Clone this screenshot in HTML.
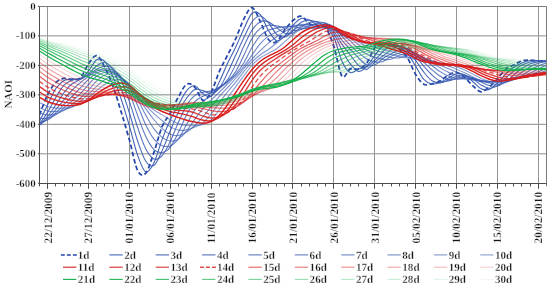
<!DOCTYPE html>
<html><head><meta charset="utf-8"><title>NAOI</title>
<style>
html,body{margin:0;padding:0;background:#fff;}
body{width:550px;height:290px;overflow:hidden;}
svg{display:block;}
text{font-family:"Liberation Serif",serif;font-weight:bold;fill:#151515;stroke:#fff;stroke-width:0.27px;text-rendering:geometricPrecision;}
.grid line{stroke:#969696;stroke-width:1;}
.grid line.h{stroke:#8c8c8c;}
.ticks line{stroke:#4a4a4a;stroke-width:1;}
.series path{fill:none;stroke-linejoin:round;}
.yl text{font-size:10.9px;}
.xl text{font-size:11.3px;}
.lg text{font-size:11.1px;}
</style></head><body>
<svg width="550" height="290" viewBox="0 0 550 290">
<defs><clipPath id="cp"><rect x="39.5" y="6.4" width="507.0" height="177.1"/></clipPath></defs>
<rect x="0" y="0" width="550" height="290" fill="#fff"/>
<g class="grid"><line class="h" x1="39.5" x2="546.5" y1="35.88" y2="35.88"/><line class="h" x1="39.5" x2="546.5" y1="65.36" y2="65.36"/><line class="h" x1="39.5" x2="546.5" y1="94.84" y2="94.84"/><line class="h" x1="39.5" x2="546.5" y1="124.32" y2="124.32"/><line class="h" x1="39.5" x2="546.5" y1="153.80" y2="153.80"/><line x1="47.5" x2="47.5" y1="6.5" y2="183.5"/><line x1="88.5" x2="88.5" y1="6.5" y2="183.5"/><line x1="129.5" x2="129.5" y1="6.5" y2="183.5"/><line x1="170.5" x2="170.5" y1="6.5" y2="183.5"/><line x1="211.5" x2="211.5" y1="6.5" y2="183.5"/><line x1="252.5" x2="252.5" y1="6.5" y2="183.5"/><line x1="292.5" x2="292.5" y1="6.5" y2="183.5"/><line x1="333.5" x2="333.5" y1="6.5" y2="183.5"/><line x1="374.5" x2="374.5" y1="6.5" y2="183.5"/><line x1="415.5" x2="415.5" y1="6.5" y2="183.5"/><line x1="456.5" x2="456.5" y1="6.5" y2="183.5"/><line x1="497.5" x2="497.5" y1="6.5" y2="183.5"/><line x1="538.5" x2="538.5" y1="6.5" y2="183.5"/></g>
<g class="series" clip-path="url(#cp)">
<path d="M39.50,115.00C40.86,111.59 44.95,99.94 47.68,94.53C50.40,89.12 53.13,85.22 55.85,82.53C58.58,79.85 61.31,78.96 64.03,78.45C66.76,77.94 69.48,79.58 72.21,79.48C74.93,79.38 77.66,80.46 80.38,77.84C83.11,75.22 85.84,67.45 88.56,63.75C91.29,60.05 94.01,54.99 96.74,55.64C99.46,56.29 102.19,62.48 104.92,67.65C107.64,72.81 110.37,79.22 113.09,86.65C115.82,94.07 118.54,103.28 121.27,112.19C124.00,121.09 126.72,130.34 129.45,140.07C132.17,149.81 134.90,165.08 137.62,170.60C140.35,176.12 143.08,176.27 145.80,173.20C148.53,170.13 151.25,159.96 153.98,152.19C156.70,144.41 159.43,133.07 162.16,126.54C164.88,120.01 167.61,117.96 170.33,113.00C173.06,108.04 175.78,101.59 178.51,96.80C181.23,92.01 183.96,85.82 186.69,84.24C189.41,82.67 192.14,84.67 194.86,87.35C197.59,90.03 200.31,99.51 203.04,100.30C205.77,101.09 208.49,96.94 211.22,92.10C213.94,87.27 216.67,77.45 219.39,71.30C222.12,65.15 224.85,60.63 227.57,55.20C230.30,49.77 233.02,44.77 235.75,38.70C238.47,32.63 241.20,23.96 243.92,18.80C246.65,13.64 249.38,7.27 252.10,7.72C254.83,8.17 257.55,16.20 260.28,21.50C263.00,26.80 265.73,36.12 268.46,39.50C271.18,42.88 273.91,43.42 276.63,41.80C279.36,40.18 282.08,33.35 284.81,29.80C287.54,26.25 290.26,22.75 292.99,20.50C295.71,18.25 298.44,15.75 301.16,16.30C303.89,16.85 306.62,22.08 309.34,23.80C312.07,25.52 314.79,25.90 317.52,26.60C320.24,27.30 322.97,24.68 325.69,28.00C328.42,31.32 331.15,38.44 333.87,46.50C336.60,54.56 339.32,72.62 342.05,76.35C344.77,80.08 347.50,70.08 350.23,68.87C352.95,67.67 355.68,70.04 358.40,69.11C361.13,68.18 363.85,66.84 366.58,63.28C369.31,59.73 372.03,51.06 374.76,47.80C377.48,44.54 380.21,44.16 382.93,43.70C385.66,43.24 388.39,44.22 391.11,45.06C393.84,45.90 396.56,46.62 399.29,48.74C402.01,50.86 404.74,53.51 407.46,57.79C410.19,62.08 412.92,70.06 415.64,74.47C418.37,78.87 421.09,82.67 423.82,84.23C426.54,85.78 429.27,84.34 432.00,83.79C434.72,83.25 437.45,82.36 440.17,80.94C442.90,79.51 445.62,76.66 448.35,75.24C451.08,73.82 453.80,72.01 456.53,72.40C459.25,72.79 461.98,75.35 464.70,77.59C467.43,79.82 470.16,83.46 472.88,85.83C475.61,88.20 478.33,91.61 481.06,91.80C483.78,91.99 486.51,89.12 489.23,86.95C491.96,84.79 494.69,81.76 497.41,78.82C500.14,75.87 502.86,71.60 505.59,69.31C508.31,67.01 511.04,66.44 513.77,65.03C516.49,63.63 519.22,61.70 521.94,60.86C524.67,60.03 527.39,59.95 530.12,60.01C532.85,60.07 535.57,61.00 538.30,61.25C541.02,61.50 543.75,61.46 546.47,61.50C549.20,61.54 551.93,61.50 554.65,61.50C557.38,61.50 561.47,61.50 562.83,61.50" stroke="#2446aa" stroke-opacity="1.00" stroke-width="1.75" stroke-dasharray="4.6,2.6"/>
<path d="M39.50,121.25C40.86,118.50 44.95,110.22 47.68,104.77C50.40,99.31 53.13,92.58 55.85,88.53C58.58,84.49 61.31,82.09 64.03,80.49C66.76,78.90 69.48,79.27 72.21,78.96C74.93,78.66 77.66,80.02 80.38,78.66C83.11,77.30 85.84,73.95 88.56,70.79C91.29,67.63 94.01,61.22 96.74,59.69C99.46,58.17 102.19,58.73 104.92,61.64C107.64,64.55 110.37,70.85 113.09,77.15C115.82,83.44 118.54,91.25 121.27,99.42C124.00,107.58 126.72,116.81 129.45,126.13C132.17,135.45 134.90,147.71 137.62,155.34C140.35,162.97 143.08,170.67 145.80,171.90C148.53,173.13 151.25,168.12 153.98,162.69C156.70,157.27 159.43,146.52 162.16,139.36C164.88,132.21 167.61,125.51 170.33,119.77C173.06,114.02 175.78,109.77 178.51,104.90C181.23,100.03 183.96,93.70 186.69,90.52C189.41,87.34 192.14,85.24 194.86,85.80C197.59,86.35 200.31,92.09 203.04,93.82C205.77,95.56 208.49,98.22 211.22,96.20C213.94,94.18 216.67,87.19 219.39,81.70C222.12,76.21 224.85,69.04 227.57,63.25C230.30,57.46 233.02,52.70 235.75,46.95C238.47,41.20 241.20,34.36 243.92,28.75C246.65,23.14 249.38,15.62 252.10,13.26C254.83,10.91 257.55,11.74 260.28,14.61C263.00,17.48 265.73,26.16 268.46,30.50C271.18,34.84 273.91,39.77 276.63,40.65C279.36,41.53 282.08,38.38 284.81,35.80C287.54,33.22 290.26,28.05 292.99,25.15C295.71,22.25 298.44,19.25 301.16,18.40C303.89,17.55 306.62,18.92 309.34,20.05C312.07,21.18 314.79,23.99 317.52,25.20C320.24,26.41 322.97,25.29 325.69,27.30C328.42,29.31 331.15,31.56 333.87,37.25C336.60,42.94 339.32,55.53 342.05,61.42C344.77,67.32 347.50,71.35 350.23,72.61C352.95,73.87 355.68,70.06 358.40,68.99C361.13,67.92 363.85,68.44 366.58,66.20C369.31,63.95 372.03,58.95 374.76,55.54C377.48,52.13 380.21,47.61 382.93,45.75C385.66,43.89 388.39,44.19 391.11,44.38C393.84,44.57 396.56,45.42 399.29,46.90C402.01,48.38 404.74,50.06 407.46,53.27C410.19,56.47 412.92,61.78 415.64,66.13C418.37,70.48 421.09,76.37 423.82,79.35C426.54,82.33 429.27,83.51 432.00,84.01C434.72,84.51 437.45,83.35 440.17,82.37C442.90,81.38 445.62,79.51 448.35,78.09C451.08,76.67 453.80,74.34 456.53,73.82C459.25,73.30 461.98,73.68 464.70,74.99C467.43,76.31 470.16,79.40 472.88,81.71C475.61,84.01 478.33,87.54 481.06,88.82C483.78,90.09 486.51,90.37 489.23,89.38C491.96,88.39 494.69,85.44 497.41,82.89C500.14,80.33 502.86,76.68 505.59,74.06C508.31,71.44 511.04,69.02 513.77,67.17C516.49,65.32 519.22,64.07 521.94,62.95C524.67,61.83 527.39,60.82 530.12,60.44C532.85,60.05 535.57,60.47 538.30,60.63C541.02,60.78 543.75,61.23 546.47,61.37C549.20,61.52 551.93,61.48 554.65,61.50C557.38,61.52 561.47,61.50 562.83,61.50" stroke="#385ab2" stroke-opacity="0.95" stroke-width="1.10"/>
<path d="M39.50,123.67C40.86,121.78 44.95,116.73 47.68,112.34C50.40,107.96 53.13,101.88 55.85,97.36C58.58,92.83 61.31,88.04 64.03,85.17C66.76,82.30 69.48,81.25 72.21,80.15C74.93,79.06 77.66,79.67 80.38,78.59C83.11,77.51 85.84,75.83 88.56,73.69C91.29,71.55 94.01,67.63 96.74,65.74C99.46,63.85 102.19,61.64 104.92,62.34C107.64,63.05 110.37,65.56 113.09,69.98C115.82,74.39 118.54,81.66 121.27,88.83C124.00,95.99 126.72,104.28 129.45,112.97C132.17,121.66 134.90,132.90 137.62,140.95C140.35,149.01 143.08,157.23 145.80,161.29C148.53,165.35 151.25,167.10 153.98,165.33C156.70,163.55 159.43,156.43 162.16,150.64C164.88,144.85 167.61,137.00 170.33,130.58C173.06,124.15 175.78,117.54 178.51,112.11C181.23,106.69 183.96,101.79 186.69,98.01C189.41,94.24 192.14,90.69 194.86,89.46C197.59,88.23 200.31,90.00 203.04,90.63C205.77,91.26 208.49,93.71 211.22,93.25C213.94,92.80 216.67,91.30 219.39,87.90C222.12,84.50 224.85,78.34 227.57,72.87C230.30,67.40 233.02,60.95 235.75,55.07C238.47,49.18 241.20,43.12 243.92,37.57C246.65,32.01 249.38,25.33 252.10,21.74C254.83,18.15 257.55,15.81 260.28,16.01C263.00,16.20 265.73,19.86 268.46,22.91C271.18,25.95 273.91,31.91 276.63,34.27C279.36,36.62 282.08,37.63 284.81,37.03C287.54,36.44 290.26,33.17 292.99,30.70C295.71,28.23 298.44,23.95 301.16,22.20C303.89,20.45 306.62,20.19 309.34,20.20C312.07,20.21 314.79,21.24 317.52,22.23C320.24,23.22 322.97,24.22 325.69,26.13C328.42,28.04 331.15,29.68 333.87,33.70C336.60,37.72 339.32,45.25 342.05,50.28C344.77,55.32 347.50,60.38 350.23,63.91C352.95,67.43 355.68,70.91 358.40,71.44C361.13,71.97 363.85,68.99 366.58,67.09C369.31,65.19 372.03,62.65 374.76,60.06C377.48,57.48 380.21,54.02 382.93,51.59C385.66,49.17 388.39,46.48 391.11,45.52C393.84,44.56 396.56,45.00 399.29,45.83C402.01,46.67 404.74,48.11 407.46,50.53C410.19,52.95 412.92,56.73 415.64,60.33C418.37,63.94 421.09,68.75 423.82,72.16C426.54,75.58 429.27,79.03 432.00,80.83C434.72,82.63 437.45,83.13 440.17,82.99C442.90,82.85 445.62,81.12 448.35,79.99C451.08,78.86 453.80,77.01 456.53,76.19C459.25,75.37 461.98,74.67 464.70,75.08C467.43,75.48 470.16,76.94 472.88,78.61C475.61,80.27 478.33,83.47 481.06,85.07C483.78,86.67 486.51,88.06 489.23,88.20C491.96,88.33 494.69,87.50 497.41,85.86C500.14,84.22 502.86,80.83 505.59,78.36C508.31,75.89 511.04,73.27 513.77,71.05C516.49,68.84 519.22,66.58 521.94,65.07C524.67,63.55 527.39,62.70 530.12,61.97C532.85,61.24 535.57,60.88 538.30,60.71C541.02,60.53 543.75,60.80 546.47,60.92C549.20,61.04 551.93,61.32 554.65,61.42C557.38,61.51 561.47,61.49 562.83,61.50" stroke="#385ab2" stroke-opacity="0.91" stroke-width="1.10"/>
<path d="M39.50,124.75C40.86,123.36 44.95,119.69 47.68,116.38C50.40,113.07 53.13,108.85 55.85,104.89C58.58,100.93 61.31,96.15 64.03,92.63C66.76,89.10 69.48,85.92 72.21,83.75C74.93,81.57 77.66,81.05 80.38,79.58C83.11,78.10 85.84,76.61 88.56,74.88C91.29,73.15 94.01,70.62 96.74,69.18C99.46,67.73 102.19,66.34 104.92,66.22C107.64,66.09 110.37,66.03 113.09,68.42C115.82,70.81 118.54,74.99 121.27,80.53C124.00,86.07 126.72,93.83 129.45,101.64C132.17,109.45 134.90,119.48 137.62,127.38C140.35,135.27 143.08,143.74 145.80,149.02C148.53,154.29 151.25,157.91 153.98,159.02C156.70,160.12 159.43,158.60 162.16,155.63C164.88,152.67 167.61,146.81 170.33,141.23C173.06,135.65 175.78,128.15 178.51,122.13C181.23,116.12 183.96,109.61 186.69,105.14C189.41,100.68 192.14,97.51 194.86,95.35C197.59,93.19 200.31,92.90 203.04,92.17C205.77,91.45 208.49,91.73 211.22,91.00C213.94,90.26 216.67,89.64 219.39,87.76C222.12,85.88 224.85,83.63 227.57,79.73C230.30,75.82 233.02,69.95 235.75,64.33C238.47,58.70 241.20,51.70 243.92,46.00C246.65,40.30 249.38,34.16 252.10,30.11C254.83,26.05 257.55,23.05 260.28,21.68C263.00,20.31 265.73,20.89 268.46,21.88C271.18,22.87 273.91,25.75 276.63,27.63C279.36,29.51 282.08,32.27 284.81,33.15C287.54,34.03 290.26,33.91 292.99,32.90C295.71,31.89 298.44,28.82 301.16,27.10C303.89,25.38 306.62,23.48 309.34,22.60C312.07,21.72 314.79,21.62 317.52,21.80C320.24,21.98 322.97,22.10 325.69,23.68C328.42,25.25 331.15,27.78 333.87,31.23C336.60,34.67 339.32,40.41 342.05,44.36C344.77,48.31 347.50,51.46 350.23,54.93C352.95,58.40 355.68,62.80 358.40,65.21C361.13,67.62 363.85,69.89 366.58,69.40C369.31,68.91 372.03,64.50 374.76,62.27C377.48,60.03 380.21,58.02 382.93,55.97C385.66,53.92 388.39,51.57 391.11,49.96C393.84,48.35 396.56,46.51 399.29,46.32C402.01,46.13 404.74,47.12 407.46,48.82C410.19,50.52 412.92,53.60 415.64,56.52C418.37,59.43 421.09,63.21 423.82,66.31C426.54,69.40 429.27,72.65 432.00,75.07C434.72,77.50 437.45,79.86 440.17,80.86C442.90,81.85 445.62,81.51 448.35,81.05C451.08,80.59 453.80,78.84 456.53,78.09C459.25,77.34 461.98,76.60 464.70,76.54C467.43,76.49 470.16,76.87 472.88,77.76C475.61,78.66 478.33,80.61 481.06,81.90C483.78,83.20 486.51,84.89 489.23,85.54C491.96,86.20 494.69,86.49 497.41,85.85C500.14,85.21 502.86,83.52 505.59,81.72C508.31,79.92 511.04,77.23 513.77,75.03C516.49,72.83 519.22,70.38 521.94,68.51C524.67,66.63 527.39,64.92 530.12,63.80C532.85,62.68 535.57,62.27 538.30,61.79C541.02,61.31 543.75,61.03 546.47,60.91C549.20,60.78 551.93,60.98 554.65,61.06C557.38,61.15 561.47,61.37 562.83,61.44" stroke="#385ab2" stroke-opacity="0.86" stroke-width="1.10"/>
<path d="M39.50,125.20C40.86,124.12 44.95,121.30 47.68,118.71C50.40,116.11 53.13,112.80 55.85,109.61C58.58,106.43 61.31,102.87 64.03,99.60C66.76,96.33 69.48,92.84 72.21,90.00C74.93,87.16 77.66,84.83 80.38,82.57C83.11,80.30 85.84,78.33 88.56,76.41C91.29,74.49 94.01,72.29 96.74,71.03C99.46,69.77 102.19,68.99 104.92,68.87C107.64,68.75 110.37,68.92 113.09,70.30C115.82,71.69 118.54,73.48 121.27,77.17C124.00,80.86 126.72,86.06 129.45,92.44C132.17,98.81 134.90,108.08 137.62,115.43C140.35,122.78 143.08,130.84 145.80,136.54C148.53,142.24 151.25,146.99 153.98,149.65C156.70,152.31 159.43,152.94 162.16,152.52C164.88,152.10 167.61,150.47 170.33,147.11C173.06,143.74 175.78,137.77 178.51,132.35C181.23,126.92 183.96,119.68 186.69,114.55C189.41,109.43 192.14,104.62 194.86,101.59C197.59,98.55 200.31,97.91 203.04,96.34C205.77,94.77 208.49,93.71 211.22,92.16C213.94,90.61 216.67,88.88 219.39,87.06C222.12,85.24 224.85,83.84 227.57,81.25C230.30,78.66 233.02,75.86 235.75,71.52C238.47,67.18 241.20,60.75 243.92,55.22C246.65,49.69 249.38,42.82 252.10,38.34C254.83,33.87 257.55,30.57 260.28,28.38C263.00,26.20 265.73,25.66 268.46,25.24C271.18,24.82 273.91,25.39 276.63,25.86C279.36,26.33 282.08,27.27 284.81,28.06C287.54,28.86 290.26,30.37 292.99,30.62C295.71,30.87 298.44,30.28 301.16,29.58C303.89,28.88 306.62,27.47 309.34,26.44C312.07,25.41 314.79,23.97 317.52,23.40C320.24,22.83 322.97,22.23 325.69,23.04C328.42,23.85 331.15,25.37 333.87,28.24C336.60,31.11 339.32,36.75 342.05,40.25C344.77,43.75 347.50,46.34 350.23,49.26C352.95,52.18 355.68,55.17 358.40,57.77C361.13,60.36 363.85,63.60 366.58,64.82C369.31,66.04 372.03,66.13 374.76,65.08C377.48,64.04 380.21,60.44 382.93,58.55C385.66,56.67 388.39,55.26 391.11,53.79C393.84,52.32 396.56,50.58 399.29,49.72C402.01,48.85 404.74,47.91 407.46,48.62C410.19,49.32 412.92,51.71 415.64,53.95C418.37,56.19 421.09,59.42 423.82,62.06C426.54,64.70 429.27,67.44 432.00,69.80C434.72,72.17 437.45,74.59 440.17,76.24C442.90,77.90 445.62,79.22 448.35,79.73C451.08,80.25 453.80,79.61 456.53,79.32C459.25,79.03 461.98,78.15 464.70,77.99C467.43,77.84 470.16,77.97 472.88,78.40C475.61,78.83 478.33,79.82 481.06,80.57C483.78,81.32 486.51,82.31 489.23,82.91C491.96,83.52 494.69,84.26 497.41,84.20C500.14,84.14 502.86,83.51 505.59,82.54C508.31,81.57 511.04,80.11 513.77,78.38C516.49,76.66 519.22,74.12 521.94,72.20C524.67,70.27 527.39,68.29 530.12,66.81C532.85,65.32 535.57,64.14 538.30,63.29C541.02,62.45 543.75,62.11 546.47,61.73C549.20,61.35 551.93,61.12 554.65,61.02C557.38,60.93 561.47,61.13 562.83,61.15" stroke="#385ab2" stroke-opacity="0.82" stroke-width="1.10"/>
<path d="M39.50,122.33C40.86,121.96 44.95,121.70 47.68,120.09C50.40,118.48 53.13,115.29 55.85,112.68C58.58,110.07 61.31,107.16 64.03,104.42C66.76,101.68 69.48,98.99 72.21,96.25C74.93,93.51 77.66,90.78 80.38,87.97C83.11,85.17 85.84,81.93 88.56,79.43C91.29,76.93 94.01,74.44 96.74,72.95C99.46,71.45 102.19,70.65 104.92,70.47C107.64,70.28 110.37,70.70 113.09,71.83C115.82,72.97 118.54,74.65 121.27,77.28C124.00,79.92 126.72,82.96 129.45,87.66C132.17,92.35 134.90,99.23 137.62,105.47C140.35,111.70 143.08,119.44 145.80,125.06C148.53,130.67 151.25,135.69 153.98,139.15C156.70,142.61 159.43,144.67 162.16,145.80C164.88,146.93 167.61,147.11 170.33,145.93C173.06,144.75 175.78,142.32 178.51,138.72C181.23,135.12 183.96,129.11 186.69,124.33C189.41,119.54 192.14,113.85 194.86,110.02C197.59,106.19 200.31,103.77 203.04,101.37C205.77,98.97 208.49,97.75 211.22,95.63C213.94,93.52 216.67,91.00 219.39,88.68C222.12,86.37 224.85,84.17 227.57,81.75C230.30,79.33 233.02,77.33 235.75,74.16C238.47,70.99 241.20,67.21 243.92,62.73C246.65,58.26 249.38,51.84 252.10,47.30C254.83,42.77 257.55,38.38 260.28,35.54C263.00,32.69 265.73,31.49 268.46,30.24C271.18,28.98 273.91,28.62 276.63,28.00C279.36,27.38 282.08,26.72 284.81,26.52C287.54,26.32 290.26,26.52 292.99,26.80C295.71,27.09 298.44,27.93 301.16,28.23C303.89,28.54 306.62,28.91 309.34,28.62C312.07,28.32 314.79,27.21 317.52,26.47C320.24,25.73 322.97,24.09 325.69,24.17C328.42,24.25 331.15,24.93 333.87,26.95C336.60,28.97 339.32,33.25 342.05,36.26C344.77,39.27 347.50,42.30 350.23,45.02C352.95,47.74 355.68,50.29 358.40,52.57C361.13,54.85 363.85,57.12 366.58,58.69C369.31,60.25 372.03,61.51 374.76,61.99C377.48,62.46 380.21,62.47 382.93,61.52C385.66,60.57 388.39,57.73 391.11,56.30C393.84,54.88 396.56,53.82 399.29,52.95C402.01,52.07 404.74,51.07 407.46,51.06C410.19,51.06 412.92,51.60 415.64,52.93C418.37,54.25 421.09,56.87 423.82,59.00C426.54,61.12 429.27,63.57 432.00,65.68C434.72,67.79 437.45,69.93 440.17,71.66C442.90,73.39 445.62,74.94 448.35,76.08C451.08,77.22 453.80,78.02 456.53,78.51C459.25,79.00 461.98,78.90 464.70,79.03C467.43,79.16 470.16,79.03 472.88,79.30C475.61,79.57 478.33,80.24 481.06,80.63C483.78,81.02 486.51,81.37 489.23,81.64C491.96,81.90 494.69,82.22 497.41,82.23C500.14,82.24 502.86,82.15 505.59,81.72C508.31,81.28 511.04,80.67 513.77,79.62C516.49,78.58 519.22,77.04 521.94,75.46C524.67,73.89 527.39,71.76 530.12,70.16C532.85,68.57 535.57,67.07 538.30,65.88C541.02,64.68 543.75,63.69 546.47,62.99C549.20,62.30 551.93,62.01 554.65,61.69C557.38,61.38 561.47,61.20 562.83,61.10" stroke="#385ab2" stroke-opacity="0.78" stroke-width="1.10"/>
<path d="M39.50,118.00C40.86,118.06 44.95,118.91 47.68,118.36C50.40,117.82 53.13,116.49 55.85,114.72C58.58,112.96 61.31,110.10 64.03,107.79C66.76,105.48 69.48,103.22 72.21,100.86C74.93,98.50 77.66,96.34 80.38,93.62C83.11,90.90 85.84,87.44 88.56,84.51C91.29,81.58 94.01,78.09 96.74,76.03C99.46,73.98 102.19,72.73 104.92,72.19C107.64,71.65 110.37,71.88 113.09,72.78C115.82,73.68 118.54,75.35 121.27,77.60C124.00,79.84 126.72,82.60 129.45,86.25C132.17,89.91 134.90,94.69 137.62,99.51C140.35,104.32 143.08,110.24 145.80,115.14C148.53,120.05 151.25,125.23 153.98,128.93C156.70,132.64 159.43,135.32 162.16,137.35C164.88,139.38 167.61,140.85 170.33,141.11C173.06,141.37 175.78,140.61 178.51,138.91C181.23,137.22 183.96,134.25 186.69,130.94C189.41,127.63 192.14,122.76 194.86,119.05C197.59,115.33 200.31,111.80 203.04,108.63C205.77,105.46 208.49,102.79 211.22,100.05C213.94,97.30 216.67,94.85 219.39,92.16C222.12,89.46 224.85,86.66 227.57,83.90C230.30,81.14 233.02,78.54 235.75,75.60C238.47,72.66 241.20,69.70 243.92,66.25C246.65,62.80 249.38,58.65 252.10,54.88C254.83,51.10 257.55,46.75 260.28,43.62C263.00,40.49 265.73,38.06 268.46,36.10C271.18,34.15 273.91,33.20 276.63,31.89C279.36,30.58 282.08,29.30 284.81,28.26C287.54,27.22 290.26,26.15 292.99,25.66C295.71,25.17 298.44,24.98 301.16,25.30C303.89,25.63 306.62,27.10 309.34,27.60C312.07,28.10 314.79,28.48 317.52,28.33C320.24,28.18 322.97,26.85 325.69,26.69C328.42,26.52 331.15,26.14 333.87,27.36C336.60,28.58 339.32,31.75 342.05,34.01C344.77,36.27 347.50,38.51 350.23,40.92C352.95,43.33 355.68,46.26 358.40,48.46C361.13,50.66 363.85,52.66 366.58,54.10C369.31,55.55 372.03,56.25 374.76,57.13C377.48,58.01 380.21,59.03 382.93,59.37C385.66,59.71 388.39,59.86 391.11,59.17C393.84,58.48 396.56,56.14 399.29,55.22C402.01,54.30 404.74,53.78 407.46,53.64C410.19,53.50 412.92,53.78 415.64,54.41C418.37,55.03 421.09,56.04 423.82,57.40C426.54,58.75 429.27,60.80 432.00,62.54C434.72,64.28 437.45,66.25 440.17,67.86C442.90,69.47 445.62,70.89 448.35,72.17C451.08,73.45 453.80,74.52 456.53,75.55C459.25,76.59 461.98,77.64 464.70,78.38C467.43,79.12 470.16,79.55 472.88,80.00C475.61,80.45 478.33,80.83 481.06,81.08C483.78,81.34 486.51,81.51 489.23,81.54C491.96,81.56 494.69,81.42 497.41,81.23C500.14,81.04 502.86,80.70 505.59,80.38C508.31,80.07 511.04,79.91 513.77,79.33C516.49,78.76 519.22,77.96 521.94,76.94C524.67,75.93 527.39,74.60 530.12,73.25C532.85,71.91 535.57,70.22 538.30,68.89C541.02,67.56 543.75,66.27 546.47,65.25C549.20,64.24 551.93,63.38 554.65,62.78C557.38,62.18 561.47,61.85 562.83,61.67" stroke="#385ab2" stroke-opacity="0.73" stroke-width="1.10"/>
<path d="M39.50,113.00C40.86,113.34 44.95,114.92 47.68,115.07C50.40,115.21 53.13,114.70 55.85,113.88C58.58,113.07 61.31,111.79 64.03,110.19C66.76,108.58 69.48,106.28 72.21,104.25C74.93,102.21 77.66,100.37 80.38,97.98C83.11,95.59 85.84,92.73 88.56,89.89C91.29,87.04 94.01,83.39 96.74,80.90C99.46,78.42 102.19,76.13 104.92,74.98C107.64,73.83 110.37,73.54 113.09,74.00C115.82,74.45 118.54,75.80 121.27,77.70C124.00,79.61 126.72,82.23 129.45,85.41C132.17,88.59 134.90,92.91 137.62,96.80C140.35,100.68 143.08,104.89 145.80,108.72C148.53,112.55 151.25,116.45 153.98,119.77C156.70,123.09 159.43,126.21 162.16,128.63C164.88,131.06 167.61,133.15 170.33,134.30C173.06,135.46 175.78,135.94 178.51,135.57C181.23,135.20 183.96,133.76 186.69,132.08C189.41,130.40 192.14,128.05 194.86,125.49C197.59,122.93 200.31,119.86 203.04,116.70C205.77,113.55 208.49,109.94 211.22,106.56C213.94,103.19 216.67,99.63 219.39,96.45C222.12,93.28 224.85,90.57 227.57,87.54C230.30,84.50 233.02,81.42 235.75,78.25C238.47,75.08 241.20,71.72 243.92,68.50C246.65,65.28 249.38,61.90 252.10,58.93C254.83,55.97 257.55,53.34 260.28,50.70C263.00,48.06 265.73,45.42 268.46,43.10C271.18,40.79 273.91,38.73 276.63,36.82C279.36,34.90 282.08,33.22 284.81,31.63C287.54,30.04 290.26,28.48 292.99,27.29C295.71,26.10 298.44,24.85 301.16,24.49C303.89,24.13 306.62,24.62 309.34,25.12C312.07,25.61 314.79,26.95 317.52,27.48C320.24,28.00 322.97,28.01 325.69,28.29C328.42,28.57 331.15,28.30 333.87,29.16C336.60,30.03 339.32,31.95 342.05,33.48C344.77,35.01 347.50,36.54 350.23,38.37C352.95,40.19 355.68,42.45 358.40,44.44C361.13,46.43 363.85,48.84 366.58,50.31C369.31,51.79 372.03,52.46 374.76,53.31C377.48,54.17 380.21,54.74 382.93,55.45C385.66,56.16 388.39,57.18 391.11,57.58C393.84,57.99 396.56,58.20 399.29,57.86C402.01,57.52 404.74,55.81 407.46,55.54C410.19,55.27 412.92,55.81 415.64,56.24C418.37,56.68 421.09,57.39 423.82,58.13C426.54,58.88 429.27,59.58 432.00,60.70C434.72,61.82 437.45,63.49 440.17,64.84C442.90,66.19 445.62,67.56 448.35,68.78C451.08,70.01 453.80,71.03 456.53,72.20C459.25,73.37 461.98,74.62 464.70,75.81C467.43,76.99 470.16,78.37 472.88,79.31C475.61,80.26 478.33,81.06 481.06,81.48C483.78,81.90 486.51,81.86 489.23,81.82C491.96,81.77 494.69,81.54 497.41,81.20C500.14,80.85 502.86,80.20 505.59,79.74C508.31,79.29 511.04,78.92 513.77,78.47C516.49,78.01 519.22,77.63 521.94,77.02C524.67,76.42 527.39,75.71 530.12,74.83C532.85,73.95 535.57,72.90 538.30,71.75C541.02,70.61 543.75,69.13 546.47,67.97C549.20,66.80 551.93,65.68 554.65,64.78C557.38,63.89 561.47,62.98 562.83,62.62" stroke="#385ab2" stroke-opacity="0.69" stroke-width="1.10"/>
<path d="M39.50,107.78C40.86,108.31 44.95,110.34 47.68,110.95C50.40,111.56 53.13,111.62 55.85,111.45C58.58,111.28 61.31,110.73 64.03,109.95C66.76,109.17 69.48,108.22 72.21,106.78C74.93,105.34 77.66,103.42 80.38,101.31C83.11,99.21 85.84,96.71 88.56,94.18C91.29,91.64 94.01,88.54 96.74,86.08C99.46,83.62 102.19,81.06 104.92,79.43C107.64,77.80 110.37,76.48 113.09,76.28C115.82,76.08 118.54,76.85 121.27,78.24C124.00,79.63 126.72,81.86 129.45,84.63C132.17,87.41 134.90,91.43 137.62,94.87C140.35,98.32 143.08,102.17 145.80,105.29C148.53,108.40 151.25,111.01 153.98,113.55C156.70,116.09 159.43,118.30 162.16,120.52C164.88,122.75 167.61,125.30 170.33,126.90C173.06,128.50 175.78,129.64 178.51,130.14C181.23,130.63 183.96,130.37 186.69,129.87C189.41,129.37 192.14,128.31 194.86,127.11C197.59,125.91 200.31,124.88 203.04,122.69C205.77,120.50 208.49,117.31 211.22,113.97C213.94,110.63 216.67,106.33 219.39,102.65C222.12,98.96 224.85,95.29 227.57,91.87C230.30,88.45 233.02,85.48 235.75,82.11C238.47,78.74 241.20,75.04 243.92,71.64C246.65,68.25 249.38,64.56 252.10,61.75C254.83,58.93 257.55,56.82 260.28,54.78C263.00,52.73 265.73,51.43 268.46,49.46C271.18,47.49 273.91,45.20 276.63,42.96C279.36,40.72 282.08,38.13 284.81,36.04C287.54,33.94 290.26,32.05 292.99,30.39C295.71,28.73 298.44,27.07 301.16,26.07C303.89,25.07 306.62,24.55 309.34,24.41C312.07,24.28 314.79,24.76 317.52,25.28C320.24,25.80 322.97,26.69 325.69,27.53C328.42,28.37 331.15,29.17 333.87,30.31C336.60,31.46 339.32,33.22 342.05,34.41C344.77,35.59 347.50,36.18 350.23,37.41C352.95,38.64 355.68,40.26 358.40,41.78C361.13,43.30 363.85,45.16 366.58,46.53C369.31,47.91 372.03,49.08 374.76,50.03C377.48,50.99 380.21,51.54 382.93,52.25C385.66,52.96 388.39,53.57 391.11,54.30C393.84,55.02 396.56,56.01 399.29,56.60C402.01,57.19 404.74,57.68 407.46,57.86C410.19,58.03 412.92,57.40 415.64,57.65C418.37,57.90 421.09,58.80 423.82,59.35C426.54,59.91 429.27,60.39 432.00,60.99C434.72,61.58 437.45,62.11 440.17,62.95C442.90,63.78 445.62,64.96 448.35,66.00C451.08,67.04 453.80,68.05 456.53,69.18C459.25,70.32 461.98,71.51 464.70,72.80C467.43,74.09 470.16,75.60 472.88,76.92C475.61,78.24 478.33,79.84 481.06,80.70C483.78,81.56 486.51,81.95 489.23,82.09C491.96,82.22 494.69,81.85 497.41,81.48C500.14,81.12 502.86,80.44 505.59,79.87C508.31,79.31 511.04,78.67 513.77,78.11C516.49,77.55 519.22,77.01 521.94,76.51C524.67,76.01 527.39,75.67 530.12,75.13C532.85,74.60 535.57,74.07 538.30,73.32C541.02,72.56 543.75,71.63 546.47,70.61C549.20,69.60 551.93,68.28 554.65,67.25C557.38,66.22 561.47,64.89 562.83,64.42" stroke="#385ab2" stroke-opacity="0.64" stroke-width="1.10"/>
<path d="M39.50,102.50C40.86,103.16 44.95,105.52 47.68,106.45C50.40,107.39 53.13,107.82 55.85,108.11C58.58,108.39 61.31,108.35 64.03,108.15C66.76,107.95 69.48,107.61 72.21,106.90C74.93,106.19 77.66,105.44 80.38,103.88C83.11,102.33 85.84,99.82 88.56,97.56C91.29,95.30 94.01,92.54 96.74,90.32C99.46,88.10 102.19,85.93 104.92,84.24C107.64,82.54 110.37,80.88 113.09,80.15C115.82,79.42 118.54,79.16 121.27,79.87C124.00,80.58 126.72,82.20 129.45,84.42C132.17,86.65 134.90,90.18 137.62,93.23C140.35,96.28 143.08,99.92 145.80,102.71C148.53,105.50 151.25,107.95 153.98,109.98C156.70,112.00 159.43,113.21 162.16,114.85C164.88,116.48 167.61,118.26 170.33,119.77C173.06,121.28 175.78,122.93 178.51,123.89C181.23,124.85 183.96,125.26 186.69,125.55C189.41,125.84 192.14,125.80 194.86,125.62C197.59,125.43 200.31,125.43 203.04,124.43C205.77,123.43 208.49,122.09 211.22,119.63C213.94,117.18 216.67,113.32 219.39,109.70C222.12,106.08 224.85,101.76 227.57,97.90C230.30,94.04 233.02,90.24 235.75,86.55C238.47,82.87 241.20,79.33 243.92,75.78C246.65,72.23 249.38,68.26 252.10,65.25C254.83,62.24 257.55,59.72 260.28,57.72C263.00,55.72 265.73,54.75 268.46,53.25C271.18,51.74 273.91,50.63 276.63,48.69C279.36,46.76 282.08,44.01 284.81,41.64C287.54,39.27 290.26,36.59 292.99,34.48C295.71,32.37 298.44,30.42 301.16,28.98C303.89,27.54 306.62,26.57 309.34,25.84C312.07,25.12 314.79,24.68 317.52,24.63C320.24,24.58 322.97,24.75 325.69,25.55C328.42,26.35 331.15,27.87 333.87,29.43C336.60,30.99 339.32,33.51 342.05,34.91C344.77,36.32 347.50,36.91 350.23,37.85C352.95,38.80 355.68,39.57 358.40,40.58C361.13,41.60 363.85,42.92 366.58,43.93C369.31,44.94 372.03,45.75 374.76,46.66C377.48,47.57 380.21,48.59 382.93,49.40C385.66,50.21 388.39,50.80 391.11,51.53C393.84,52.25 396.56,52.88 399.29,53.74C402.01,54.61 404.74,55.76 407.46,56.72C410.19,57.68 412.92,58.92 415.64,59.52C418.37,60.11 421.09,59.93 423.82,60.31C426.54,60.69 429.27,61.35 432.00,61.80C434.72,62.24 437.45,62.58 440.17,62.98C442.90,63.38 445.62,63.57 448.35,64.18C451.08,64.79 453.80,65.66 456.53,66.64C459.25,67.61 461.98,68.78 464.70,70.02C467.43,71.27 470.16,72.70 472.88,74.10C475.61,75.50 478.33,77.20 481.06,78.41C483.78,79.61 486.51,80.77 489.23,81.32C491.96,81.88 494.69,81.94 497.41,81.76C500.14,81.58 502.86,80.83 505.59,80.27C508.31,79.71 511.04,79.04 513.77,78.39C516.49,77.74 519.22,76.97 521.94,76.38C524.67,75.79 527.39,75.30 530.12,74.86C532.85,74.42 535.57,74.20 538.30,73.74C541.02,73.29 543.75,72.81 546.47,72.14C549.20,71.46 551.93,70.61 554.65,69.70C557.38,68.79 561.47,67.18 562.83,66.67" stroke="#385ab2" stroke-opacity="0.59" stroke-width="1.10"/>
<path d="M39.50,97.27C40.86,98.02 44.95,100.61 47.68,101.78C50.40,102.94 53.13,103.67 55.85,104.28C58.58,104.88 61.31,105.20 64.03,105.41C66.76,105.62 69.48,105.74 72.21,105.55C74.93,105.35 77.66,105.14 80.38,104.26C83.11,103.37 85.84,101.99 88.56,100.23C91.29,98.48 94.01,95.74 96.74,93.75C99.46,91.75 102.19,89.81 104.92,88.26C107.64,86.71 110.37,85.32 113.09,84.46C115.82,83.59 118.54,82.92 121.27,83.06C124.00,83.21 126.72,83.81 129.45,85.34C132.17,86.88 134.90,89.73 137.62,92.26C140.35,94.78 143.08,98.01 145.80,100.50C148.53,102.99 151.25,105.37 153.98,107.20C156.70,109.03 159.43,110.24 162.16,111.48C164.88,112.73 167.61,113.65 170.33,114.68C173.06,115.71 175.78,116.75 178.51,117.68C181.23,118.62 183.96,119.55 186.69,120.28C189.41,121.02 192.14,121.57 194.86,122.07C197.59,122.58 200.31,123.41 203.04,123.32C205.77,123.22 208.49,122.84 211.22,121.49C213.94,120.14 216.67,118.03 219.39,115.24C222.12,112.45 224.85,108.53 227.57,104.75C230.30,100.96 233.02,96.58 235.75,92.52C238.47,88.46 241.20,84.21 243.92,80.39C246.65,76.57 249.38,72.78 252.10,69.59C254.83,66.41 257.55,63.53 260.28,61.27C263.00,59.02 265.73,57.58 268.46,56.07C271.18,54.55 273.91,53.72 276.63,52.21C279.36,50.69 282.08,49.06 284.81,46.98C287.54,44.89 290.26,42.08 292.99,39.72C295.71,37.36 298.44,34.70 301.16,32.83C303.89,30.96 306.62,29.66 309.34,28.51C312.07,27.36 314.79,26.51 317.52,25.91C320.24,25.32 322.97,24.68 325.69,24.94C328.42,25.20 331.15,26.00 333.87,27.46C336.60,28.92 339.32,31.94 342.05,33.70C344.77,35.45 347.50,36.84 350.23,38.00C352.95,39.17 355.68,39.92 358.40,40.69C361.13,41.47 363.85,42.05 366.58,42.65C369.31,43.24 372.03,43.66 374.76,44.28C377.48,44.91 380.21,45.60 382.93,46.39C385.66,47.18 388.39,48.19 391.11,49.01C393.84,49.82 396.56,50.42 399.29,51.27C402.01,52.12 404.74,52.93 407.46,54.11C410.19,55.29 412.92,57.06 415.64,58.33C418.37,59.61 421.09,61.08 423.82,61.76C426.54,62.45 429.27,62.15 432.00,62.44C434.72,62.74 437.45,63.26 440.17,63.54C442.90,63.81 445.62,63.86 448.35,64.10C451.08,64.33 453.80,64.33 456.53,64.92C459.25,65.51 461.98,66.54 464.70,67.63C467.43,68.72 470.16,70.12 472.88,71.46C475.61,72.81 478.33,74.42 481.06,75.71C483.78,77.00 486.51,78.29 489.23,79.19C491.96,80.08 494.69,80.86 497.41,81.10C500.14,81.34 502.86,81.00 505.59,80.63C508.31,80.26 511.04,79.52 513.77,78.88C516.49,78.24 519.22,77.46 521.94,76.80C524.67,76.13 527.39,75.42 530.12,74.89C532.85,74.37 535.57,74.00 538.30,73.62C541.02,73.25 543.75,73.04 546.47,72.63C549.20,72.22 551.93,71.78 554.65,71.17C557.38,70.56 561.47,69.33 562.83,68.96" stroke="#d81c1c" stroke-opacity="1.00" stroke-width="1.45"/>
<path d="M39.50,91.92C40.86,92.77 44.95,95.67 47.68,97.04C50.40,98.42 53.13,99.33 55.85,100.17C58.58,101.02 61.31,101.61 64.03,102.13C66.76,102.64 69.48,103.06 72.21,103.25C74.93,103.43 77.66,103.63 80.38,103.24C83.11,102.84 85.84,102.00 88.56,100.88C91.29,99.76 94.01,98.07 96.74,96.52C99.46,94.97 102.19,92.97 104.92,91.57C107.64,90.17 110.37,88.93 113.09,88.13C115.82,87.33 118.54,86.82 121.27,86.77C124.00,86.71 126.72,86.87 129.45,87.81C132.17,88.76 134.90,90.58 137.62,92.45C140.35,94.31 143.08,96.94 145.80,99.00C148.53,101.06 151.25,103.17 153.98,104.81C156.70,106.44 159.43,107.68 162.16,108.82C164.88,109.95 167.61,110.88 170.33,111.61C173.06,112.34 175.78,112.64 178.51,113.19C181.23,113.74 183.96,114.17 186.69,114.90C189.41,115.62 192.14,116.65 194.86,117.54C197.59,118.43 200.31,119.73 203.04,120.26C205.77,120.79 208.49,121.21 211.22,120.71C213.94,120.22 216.67,119.05 219.39,117.31C222.12,115.56 224.85,113.25 227.57,110.23C230.30,107.22 233.02,103.22 235.75,99.24C238.47,95.27 241.20,90.53 243.92,86.38C246.65,82.23 249.38,77.80 252.10,74.34C254.83,70.87 257.55,68.06 260.28,65.58C263.00,63.11 265.73,61.24 268.46,59.46C271.18,57.68 273.91,56.40 276.63,54.88C279.36,53.36 282.08,52.02 284.81,50.34C287.54,48.66 290.26,46.86 292.99,44.77C295.71,42.67 298.44,39.88 301.16,37.77C303.89,35.65 306.62,33.65 309.34,32.08C312.07,30.51 314.79,29.35 317.52,28.35C320.24,27.35 322.97,26.35 325.69,26.09C328.42,25.82 331.15,25.83 333.87,26.74C336.60,27.64 339.32,29.88 342.05,31.53C344.77,33.18 347.50,35.12 350.23,36.63C352.95,38.14 355.68,39.60 358.40,40.59C361.13,41.59 363.85,42.16 366.58,42.58C369.31,42.99 372.03,42.80 374.76,43.08C377.48,43.35 380.21,43.70 382.93,44.23C385.66,44.77 388.39,45.49 391.11,46.28C393.84,47.07 396.56,48.06 399.29,48.98C402.01,49.91 404.74,50.68 407.46,51.82C410.19,52.95 412.92,54.36 415.64,55.81C418.37,57.25 421.09,59.19 423.82,60.49C426.54,61.79 429.27,63.02 432.00,63.60C434.72,64.18 437.45,63.83 440.17,63.98C442.90,64.13 445.62,64.38 448.35,64.51C451.08,64.65 453.80,64.54 456.53,64.79C459.25,65.03 461.98,65.25 464.70,65.98C467.43,66.71 470.16,67.95 472.88,69.15C475.61,70.34 478.33,71.91 481.06,73.16C483.78,74.41 486.51,75.65 489.23,76.65C491.96,77.65 494.69,78.58 497.41,79.15C500.14,79.73 502.86,80.08 505.59,80.11C508.31,80.14 511.04,79.78 513.77,79.33C516.49,78.87 519.22,78.04 521.94,77.38C524.67,76.73 527.39,76.00 530.12,75.40C532.85,74.79 535.57,74.22 538.30,73.76C541.02,73.29 543.75,72.95 546.47,72.61C549.20,72.27 551.93,72.08 554.65,71.70C557.38,71.33 561.47,70.59 562.83,70.36" stroke="#d81c1c" stroke-opacity="0.94" stroke-width="1.40"/>
<path d="M39.50,86.54C40.86,87.47 44.95,90.55 47.68,92.12C50.40,93.68 53.13,94.86 55.85,95.93C58.58,96.99 61.31,97.76 64.03,98.50C66.76,99.24 69.48,99.92 72.21,100.38C74.93,100.85 77.66,101.33 80.38,101.29C83.11,101.26 85.84,100.85 88.56,100.20C91.29,99.55 94.01,98.39 96.74,97.40C99.46,96.42 102.19,95.33 104.92,94.30C107.64,93.26 110.37,91.91 113.09,91.19C115.82,90.47 118.54,90.03 121.27,89.98C124.00,89.92 126.72,90.17 129.45,90.87C132.17,91.57 134.90,92.88 137.62,94.18C140.35,95.48 143.08,97.17 145.80,98.66C148.53,100.14 151.25,101.79 153.98,103.09C156.70,104.40 159.43,105.47 162.16,106.48C164.88,107.49 167.61,108.47 170.33,109.14C173.06,109.80 175.78,110.17 178.51,110.47C181.23,110.77 183.96,110.58 186.69,110.96C189.41,111.35 192.14,111.90 194.86,112.78C197.59,113.65 200.31,115.33 203.04,116.21C205.77,117.10 208.49,117.98 211.22,118.09C213.94,118.21 216.67,117.84 219.39,116.91C222.12,115.99 224.85,114.56 227.57,112.53C230.30,110.50 233.02,107.98 235.75,104.73C238.47,101.49 241.20,97.12 243.92,93.06C246.65,88.99 249.38,84.12 252.10,80.33C254.83,76.53 257.55,73.06 260.28,70.27C263.00,67.48 265.73,65.61 268.46,63.58C271.18,61.55 273.91,59.87 276.63,58.10C279.36,56.33 282.08,54.62 284.81,52.95C287.54,51.27 290.26,49.77 292.99,48.04C295.71,46.32 298.44,44.47 301.16,42.58C303.89,40.69 306.62,38.51 309.34,36.69C312.07,34.87 314.79,33.05 317.52,31.66C320.24,30.26 322.97,28.99 325.69,28.32C328.42,27.66 331.15,27.28 333.87,27.66C336.60,28.03 339.32,29.43 342.05,30.55C344.77,31.68 347.50,32.97 350.23,34.40C352.95,35.83 355.68,37.80 358.40,39.13C361.13,40.45 363.85,41.70 366.58,42.34C369.31,42.98 372.03,42.85 374.76,42.98C377.48,43.11 380.21,42.90 382.93,43.12C385.66,43.34 388.39,43.74 391.11,44.30C393.84,44.86 396.56,45.58 399.29,46.47C402.01,47.36 404.74,48.48 407.46,49.66C410.19,50.84 412.92,52.17 415.64,53.56C418.37,54.95 421.09,56.54 423.82,57.99C426.54,59.45 429.27,61.13 432.00,62.28C434.72,63.44 437.45,64.51 440.17,64.93C442.90,65.36 445.62,64.82 448.35,64.85C451.08,64.88 453.80,64.97 456.53,65.12C459.25,65.27 461.98,65.37 464.70,65.77C467.43,66.17 470.16,66.65 472.88,67.51C475.61,68.36 478.33,69.77 481.06,70.89C483.78,72.01 486.51,73.23 489.23,74.22C491.96,75.21 494.69,76.12 497.41,76.81C500.14,77.51 502.86,78.04 505.59,78.40C508.31,78.75 511.04,79.04 513.77,78.95C516.49,78.87 519.22,78.39 521.94,77.91C524.67,77.42 527.39,76.64 530.12,76.04C532.85,75.44 535.57,74.85 538.30,74.31C541.02,73.77 543.75,73.24 546.47,72.81C549.20,72.39 551.93,72.07 554.65,71.76C557.38,71.44 561.47,71.06 562.83,70.92" stroke="#d81c1c" stroke-opacity="0.88" stroke-width="1.35"/>
<path d="M39.50,81.29C40.86,82.26 44.95,85.42 47.68,87.11C50.40,88.80 53.13,90.17 55.85,91.43C58.58,92.70 61.31,93.73 64.03,94.68C66.76,95.63 69.48,96.46 72.21,97.14C74.93,97.82 77.66,98.53 80.38,98.77C83.11,99.02 85.84,98.91 88.56,98.61C91.29,98.32 94.01,97.57 96.74,97.02C99.46,96.46 102.19,95.82 104.92,95.28C107.64,94.73 110.37,94.18 113.09,93.75C115.82,93.32 118.54,92.73 121.27,92.69C124.00,92.66 126.72,92.91 129.45,93.56C132.17,94.20 134.90,95.52 137.62,96.56C140.35,97.61 143.08,98.84 145.80,99.83C148.53,100.81 151.25,101.66 153.98,102.48C156.70,103.31 159.43,104.03 162.16,104.77C164.88,105.51 167.61,106.36 170.33,106.95C173.06,107.53 175.78,107.98 178.51,108.26C181.23,108.53 183.96,108.43 186.69,108.60C189.41,108.77 192.14,108.73 194.86,109.28C197.59,109.82 200.31,111.02 203.04,111.89C205.77,112.76 208.49,114.01 211.22,114.49C213.94,114.97 216.67,115.08 219.39,114.75C222.12,114.42 224.85,113.75 227.57,112.51C230.30,111.26 233.02,109.58 235.75,107.26C238.47,104.94 241.20,101.98 243.92,98.59C246.65,95.21 249.38,90.71 252.10,86.96C254.83,83.22 257.55,79.27 260.28,76.12C263.00,72.98 265.73,70.43 268.46,68.08C271.18,65.73 273.91,64.02 276.63,62.02C279.36,60.02 282.08,57.98 284.81,56.08C287.54,54.18 290.26,52.35 292.99,50.63C295.71,48.91 298.44,47.34 301.16,45.78C303.89,44.21 306.62,42.87 309.34,41.24C312.07,39.60 314.79,37.61 317.52,35.97C320.24,34.33 322.97,32.45 325.69,31.39C328.42,30.34 331.15,29.67 333.87,29.62C336.60,29.58 339.32,30.52 342.05,31.13C344.77,31.74 347.50,32.33 350.23,33.29C352.95,34.25 355.68,35.62 358.40,36.88C361.13,38.14 363.85,39.88 366.58,40.85C369.31,41.83 372.03,42.37 374.76,42.73C377.48,43.09 380.21,42.94 382.93,43.03C385.66,43.12 388.39,43.00 391.11,43.26C393.84,43.53 396.56,43.95 399.29,44.62C402.01,45.28 404.74,46.14 407.46,47.28C410.19,48.42 412.92,50.02 415.64,51.43C418.37,52.85 421.09,54.35 423.82,55.75C426.54,57.15 429.27,58.52 432.00,59.84C434.72,61.15 437.45,62.64 440.17,63.62C442.90,64.59 445.62,65.37 448.35,65.67C451.08,65.96 453.80,65.33 456.53,65.39C459.25,65.44 461.98,65.71 464.70,66.01C467.43,66.31 470.16,66.67 472.88,67.20C475.61,67.74 478.33,68.44 481.06,69.24C483.78,70.05 486.51,71.15 489.23,72.04C491.96,72.92 494.69,73.84 497.41,74.55C500.14,75.25 502.86,75.80 505.59,76.28C508.31,76.76 511.04,77.21 513.77,77.44C516.49,77.67 519.22,77.80 521.94,77.66C524.67,77.53 527.39,77.07 530.12,76.63C532.85,76.18 535.57,75.53 538.30,74.99C541.02,74.45 543.75,73.89 546.47,73.39C549.20,72.90 551.93,72.40 554.65,72.01C557.38,71.61 561.47,71.19 562.83,71.02" stroke="#d81c1c" stroke-opacity="0.80" stroke-width="1.30" stroke-dasharray="4.6,2.6"/>
<path d="M39.50,76.20C40.86,77.19 44.95,80.40 47.68,82.17C50.40,83.94 53.13,85.40 55.85,86.80C58.58,88.20 61.31,89.42 64.03,90.57C66.76,91.71 69.48,92.79 72.21,93.67C74.93,94.55 77.66,95.39 80.38,95.86C83.11,96.32 85.84,96.46 88.56,96.44C91.29,96.42 94.01,95.98 96.74,95.75C99.46,95.52 102.19,95.23 104.92,95.06C107.64,94.88 110.37,94.71 113.09,94.70C115.82,94.69 118.54,94.79 121.27,94.98C124.00,95.17 126.72,95.23 129.45,95.85C132.17,96.47 134.90,97.72 137.62,98.69C140.35,99.66 143.08,100.90 145.80,101.67C148.53,102.44 151.25,102.91 153.98,103.32C156.70,103.72 159.43,103.75 162.16,104.09C164.88,104.42 167.61,104.95 170.33,105.32C173.06,105.68 175.78,106.05 178.51,106.27C181.23,106.49 183.96,106.50 186.69,106.66C189.41,106.81 192.14,106.84 194.86,107.18C197.59,107.52 200.31,108.11 203.04,108.68C205.77,109.24 208.49,110.08 211.22,110.57C213.94,111.06 216.67,111.58 219.39,111.61C222.12,111.65 224.85,111.45 227.57,110.78C230.30,110.11 233.02,109.16 235.75,107.59C238.47,106.01 241.20,103.87 243.92,101.36C246.65,98.85 249.38,95.66 252.10,92.54C254.83,89.41 257.55,85.74 260.28,82.60C263.00,79.45 265.73,76.39 268.46,73.68C271.18,70.97 273.91,68.63 276.63,66.32C279.36,64.02 282.08,61.98 284.81,59.87C287.54,57.77 290.26,55.63 292.99,53.71C295.71,51.79 298.44,49.91 301.16,48.34C303.89,46.78 306.62,45.66 309.34,44.31C312.07,42.97 314.79,41.74 317.52,40.26C320.24,38.78 322.97,36.75 325.69,35.44C328.42,34.13 331.15,32.85 333.87,32.40C336.60,31.95 339.32,32.53 342.05,32.74C344.77,32.95 347.50,33.16 350.23,33.65C352.95,34.14 355.68,34.84 358.40,35.68C361.13,36.51 363.85,37.70 366.58,38.64C369.31,39.58 372.03,40.62 374.76,41.31C377.48,42.01 380.21,42.49 382.93,42.79C385.66,43.10 388.39,43.03 391.11,43.16C393.84,43.30 396.56,43.24 399.29,43.63C402.01,44.02 404.74,44.58 407.46,45.49C410.19,46.40 412.92,47.74 415.64,49.09C418.37,50.45 421.09,52.20 423.82,53.62C426.54,55.04 429.27,56.35 432.00,57.62C434.72,58.89 437.45,60.11 440.17,61.24C442.90,62.37 445.62,63.58 448.35,64.39C451.08,65.20 453.80,65.82 456.53,66.12C459.25,66.42 461.98,66.00 464.70,66.20C467.43,66.40 470.16,66.89 472.88,67.33C475.61,67.77 478.33,68.33 481.06,68.84C483.78,69.36 486.51,69.81 489.23,70.42C491.96,71.03 494.69,71.86 497.41,72.49C500.14,73.12 502.86,73.69 505.59,74.20C508.31,74.70 511.04,75.17 513.77,75.53C516.49,75.89 519.22,76.18 521.94,76.34C524.67,76.50 527.39,76.61 530.12,76.48C532.85,76.36 535.57,76.00 538.30,75.60C541.02,75.20 543.75,74.59 546.47,74.09C549.20,73.59 551.93,73.07 554.65,72.60C557.38,72.14 561.47,71.52 562.83,71.31" stroke="#d81c1c" stroke-opacity="0.70" stroke-width="1.20"/>
<path d="M39.50,71.31C40.86,72.32 44.95,75.53 47.68,77.35C50.40,79.16 53.13,80.70 55.85,82.19C58.58,83.68 61.31,85.00 64.03,86.28C66.76,87.56 69.48,88.81 72.21,89.87C74.93,90.94 77.66,92.01 80.38,92.68C83.11,93.34 85.84,93.65 88.56,93.85C91.29,94.05 94.01,93.87 96.74,93.89C99.46,93.91 102.19,93.88 104.92,93.99C107.64,94.10 110.37,94.23 113.09,94.53C115.82,94.83 118.54,95.25 121.27,95.79C124.00,96.34 126.72,97.01 129.45,97.80C132.17,98.59 134.90,99.60 137.62,100.52C140.35,101.45 143.08,102.63 145.80,103.35C148.53,104.07 151.25,104.59 153.98,104.83C156.70,105.07 159.43,104.80 162.16,104.77C164.88,104.74 167.61,104.64 170.33,104.64C173.06,104.65 175.78,104.74 178.51,104.79C181.23,104.83 183.96,104.78 186.69,104.89C189.41,105.00 192.14,105.14 194.86,105.45C197.59,105.76 200.31,106.38 203.04,106.75C205.77,107.12 208.49,107.41 211.22,107.64C213.94,107.87 216.67,108.04 219.39,108.11C222.12,108.19 224.85,108.39 227.57,108.09C230.30,107.78 233.02,107.28 235.75,106.28C238.47,105.27 241.20,103.83 243.92,102.04C246.65,100.24 249.38,97.83 252.10,95.51C254.83,93.18 257.55,90.70 260.28,88.10C263.00,85.50 265.73,82.64 268.46,79.90C271.18,77.17 273.91,74.33 276.63,71.69C279.36,69.05 282.08,66.42 284.81,64.04C287.54,61.66 290.26,59.53 292.99,57.41C295.71,55.30 298.44,53.14 301.16,51.37C303.89,49.60 306.62,48.17 309.34,46.81C312.07,45.45 314.79,44.42 317.52,43.20C320.24,41.99 322.97,40.67 325.69,39.50C328.42,38.32 331.15,36.86 333.87,36.13C336.60,35.41 339.32,35.34 342.05,35.15C344.77,34.96 347.50,34.88 350.23,35.00C352.95,35.12 355.68,35.46 358.40,35.87C361.13,36.27 363.85,36.84 366.58,37.40C369.31,37.96 372.03,38.54 374.76,39.21C377.48,39.89 380.21,40.84 382.93,41.46C385.66,42.08 388.39,42.59 391.11,42.94C393.84,43.28 396.56,43.25 399.29,43.51C402.01,43.78 404.74,43.88 407.46,44.51C410.19,45.14 412.92,46.18 415.64,47.30C418.37,48.43 421.09,49.92 423.82,51.29C426.54,52.65 429.27,54.21 432.00,55.51C434.72,56.80 437.45,57.98 440.17,59.08C442.90,60.18 445.62,61.15 448.35,62.12C451.08,63.09 453.80,64.11 456.53,64.89C459.25,65.68 461.98,66.41 464.70,66.84C467.43,67.26 470.16,67.09 472.88,67.43C475.61,67.77 478.33,68.44 481.06,68.86C483.78,69.29 486.51,69.63 489.23,69.98C491.96,70.32 494.69,70.56 497.41,70.95C500.14,71.33 502.86,71.84 505.59,72.29C508.31,72.74 511.04,73.24 513.77,73.62C516.49,74.01 519.22,74.33 521.94,74.61C524.67,74.89 527.39,75.16 530.12,75.32C532.85,75.47 535.57,75.63 538.30,75.53C541.02,75.43 543.75,75.09 546.47,74.72C549.20,74.35 551.93,73.77 554.65,73.30C557.38,72.83 561.47,72.14 562.83,71.91" stroke="#d81c1c" stroke-opacity="0.60" stroke-width="1.15"/>
<path d="M39.50,66.65C40.86,67.65 44.95,70.84 47.68,72.68C50.40,74.51 53.13,76.10 55.85,77.65C58.58,79.20 61.31,80.60 64.03,81.97C66.76,83.34 69.48,84.68 72.21,85.88C74.93,87.08 77.66,88.32 80.38,89.17C83.11,90.02 85.84,90.57 88.56,90.98C91.29,91.38 94.01,91.37 96.74,91.60C99.46,91.83 102.19,92.02 104.92,92.35C107.64,92.67 110.37,93.02 113.09,93.56C115.82,94.10 118.54,94.76 121.27,95.57C124.00,96.38 126.72,97.31 129.45,98.40C132.17,99.48 134.90,101.01 137.62,102.08C140.35,103.15 143.08,104.11 145.80,104.80C148.53,105.49 151.25,106.00 153.98,106.22C156.70,106.44 159.43,106.27 162.16,106.11C164.88,105.94 167.61,105.57 170.33,105.25C173.06,104.93 175.78,104.46 178.51,104.18C181.23,103.90 183.96,103.63 186.69,103.58C189.41,103.52 192.14,103.60 194.86,103.86C197.59,104.12 200.31,104.81 203.04,105.15C205.77,105.48 208.49,105.83 211.22,105.89C213.94,105.95 216.67,105.65 219.39,105.50C222.12,105.36 224.85,105.25 227.57,105.00C230.30,104.75 233.02,104.65 235.75,104.00C238.47,103.36 241.20,102.38 243.92,101.13C246.65,99.88 249.38,98.15 252.10,96.49C254.83,94.83 257.55,93.03 260.28,91.15C263.00,89.28 265.73,87.49 268.46,85.24C271.18,82.99 273.91,80.33 276.63,77.66C279.36,74.99 282.08,71.92 284.81,69.23C287.54,66.53 290.26,63.85 292.99,61.48C295.71,59.11 298.44,56.95 301.16,55.00C303.89,53.04 306.62,51.31 309.34,49.75C312.07,48.19 314.79,46.86 317.52,45.62C320.24,44.38 322.97,43.26 325.69,42.31C328.42,41.36 331.15,40.54 333.87,39.91C336.60,39.27 339.32,38.96 342.05,38.50C344.77,38.04 347.50,37.38 350.23,37.13C352.95,36.88 355.68,36.95 358.40,37.00C361.13,37.06 363.85,37.31 366.58,37.48C369.31,37.65 372.03,37.68 374.76,38.01C377.48,38.35 380.21,38.87 382.93,39.48C385.66,40.09 388.39,41.04 391.11,41.67C393.84,42.31 396.56,42.83 399.29,43.28C402.01,43.72 404.74,43.85 407.46,44.35C410.19,44.85 412.92,45.42 415.64,46.27C418.37,47.13 421.09,48.32 423.82,49.48C426.54,50.63 429.27,51.95 432.00,53.20C434.72,54.45 437.45,55.86 440.17,57.00C442.90,58.14 445.62,59.07 448.35,60.03C451.08,60.98 453.80,61.79 456.53,62.72C459.25,63.66 461.98,64.77 464.70,65.64C467.43,66.51 470.16,67.42 472.88,67.95C475.61,68.49 478.33,68.53 481.06,68.86C483.78,69.19 486.51,69.65 489.23,69.92C491.96,70.20 494.69,70.34 497.41,70.50C500.14,70.65 502.86,70.62 505.59,70.85C508.31,71.08 511.04,71.53 513.77,71.86C516.49,72.20 519.22,72.56 521.94,72.87C524.67,73.19 527.39,73.48 530.12,73.75C532.85,74.02 535.57,74.33 538.30,74.49C541.02,74.65 543.75,74.80 546.47,74.71C549.20,74.62 551.93,74.29 554.65,73.94C557.38,73.59 561.47,72.83 562.83,72.61" stroke="#d81c1c" stroke-opacity="0.50" stroke-width="1.10"/>
<path d="M39.50,62.22C40.86,63.22 44.95,66.36 47.68,68.20C50.40,70.03 53.13,71.64 55.85,73.23C58.58,74.81 61.31,76.26 64.03,77.70C66.76,79.13 69.48,80.54 72.21,81.83C74.93,83.12 77.66,84.45 80.38,85.44C83.11,86.42 85.84,87.16 88.56,87.75C91.29,88.35 94.01,88.59 96.74,89.01C99.46,89.43 102.19,89.77 104.92,90.27C107.64,90.77 110.37,91.31 113.09,92.03C115.82,92.75 118.54,93.59 121.27,94.59C124.00,95.60 126.72,96.74 129.45,98.04C132.17,99.35 134.90,101.08 137.62,102.41C140.35,103.74 143.08,105.19 145.80,106.03C148.53,106.87 151.25,107.21 153.98,107.43C156.70,107.65 159.43,107.51 162.16,107.35C164.88,107.19 167.61,106.92 170.33,106.49C173.06,106.06 175.78,105.35 178.51,104.78C181.23,104.21 183.96,103.43 186.69,103.07C189.41,102.72 192.14,102.58 194.86,102.68C197.59,102.77 200.31,103.37 203.04,103.66C205.77,103.95 208.49,104.37 211.22,104.42C213.94,104.47 216.67,104.25 219.39,103.97C222.12,103.68 224.85,103.15 227.57,102.71C230.30,102.27 233.02,101.89 235.75,101.32C238.47,100.74 241.20,100.17 243.92,99.27C246.65,98.37 249.38,97.10 252.10,95.94C254.83,94.78 257.55,93.60 260.28,92.32C263.00,91.05 265.73,89.87 268.46,88.28C271.18,86.70 273.91,85.04 276.63,82.82C279.36,80.61 282.08,77.72 284.81,75.00C287.54,72.28 290.26,69.19 292.99,66.52C295.71,63.85 298.44,61.18 301.16,58.97C303.89,56.76 306.62,55.01 309.34,53.26C312.07,51.51 314.79,49.90 317.52,48.46C320.24,47.03 322.97,45.63 325.69,44.64C328.42,43.65 331.15,42.99 333.87,42.54C336.60,42.09 339.32,42.32 342.05,41.93C344.77,41.54 347.50,40.69 350.23,40.19C352.95,39.68 355.68,39.20 358.40,38.91C361.13,38.62 363.85,38.61 366.58,38.46C369.31,38.32 372.03,38.07 374.76,38.05C377.48,38.03 380.21,38.04 382.93,38.33C385.66,38.62 388.39,39.17 391.11,39.79C393.84,40.41 396.56,41.35 399.29,42.07C402.01,42.78 404.74,43.42 407.46,44.08C410.19,44.74 412.92,45.31 415.64,46.03C418.37,46.74 421.09,47.49 423.82,48.38C426.54,49.28 429.27,50.32 432.00,51.38C434.72,52.44 437.45,53.64 440.17,54.74C442.90,55.85 445.62,57.02 448.35,58.02C451.08,59.01 453.80,59.79 456.53,60.72C459.25,61.64 461.98,62.54 464.70,63.55C467.43,64.56 470.16,65.81 472.88,66.76C475.61,67.72 478.33,68.76 481.06,69.28C483.78,69.79 486.51,69.68 489.23,69.87C491.96,70.06 494.69,70.33 497.41,70.42C500.14,70.51 502.86,70.41 505.59,70.43C508.31,70.45 511.04,70.39 513.77,70.53C516.49,70.66 519.22,70.98 521.94,71.25C524.67,71.52 527.39,71.86 530.12,72.16C532.85,72.46 535.57,72.79 538.30,73.06C541.02,73.33 543.75,73.61 546.47,73.77C549.20,73.92 551.93,74.06 554.65,73.97C557.38,73.89 561.47,73.37 562.83,73.25" stroke="#d81c1c" stroke-opacity="0.40" stroke-width="1.05"/>
<path d="M39.50,58.11C40.86,59.07 44.95,62.12 47.68,63.92C50.40,65.73 53.13,67.35 55.85,68.95C58.58,70.55 61.31,72.03 64.03,73.50C66.76,74.97 69.48,76.44 72.21,77.79C74.93,79.14 77.66,80.54 80.38,81.62C83.11,82.71 85.84,83.55 88.56,84.29C91.29,85.03 94.01,85.47 96.74,86.06C99.46,86.66 102.19,87.22 104.92,87.89C107.64,88.56 110.37,89.21 113.09,90.08C115.82,90.95 118.54,91.94 121.27,93.09C124.00,94.24 126.72,95.53 129.45,96.99C132.17,98.45 134.90,100.34 137.62,101.86C140.35,103.39 143.08,105.04 145.80,106.14C148.53,107.24 151.25,108.08 153.98,108.46C156.70,108.84 159.43,108.57 162.16,108.44C164.88,108.30 167.61,108.06 170.33,107.65C173.06,107.24 175.78,106.64 178.51,105.98C181.23,105.32 183.96,104.32 186.69,103.70C189.41,103.08 192.14,102.44 194.86,102.25C197.59,102.05 200.31,102.42 203.04,102.55C205.77,102.68 208.49,103.03 211.22,103.05C213.94,103.08 216.67,102.95 219.39,102.68C222.12,102.40 224.85,101.96 227.57,101.40C230.30,100.84 233.02,100.08 235.75,99.34C238.47,98.60 241.20,97.79 243.92,96.97C246.65,96.16 249.38,95.28 252.10,94.45C254.83,93.63 257.55,92.84 260.28,92.02C263.00,91.21 265.73,90.57 268.46,89.54C271.18,88.51 273.91,87.42 276.63,85.84C279.36,84.25 282.08,82.32 284.81,80.03C287.54,77.75 290.26,74.83 292.99,72.13C295.71,69.44 298.44,66.38 301.16,63.88C303.89,61.37 306.62,59.12 309.34,57.12C312.07,55.12 314.79,53.48 317.52,51.86C320.24,50.24 322.97,48.57 325.69,47.39C328.42,46.20 331.15,45.25 333.87,44.74C336.60,44.23 339.32,44.55 342.05,44.32C344.77,44.09 347.50,43.79 350.23,43.35C352.95,42.91 355.68,42.23 358.40,41.71C361.13,41.18 363.85,40.65 366.58,40.19C369.31,39.73 372.03,39.26 374.76,38.95C377.48,38.65 380.21,38.39 382.93,38.35C385.66,38.30 388.39,38.37 391.11,38.68C393.84,39.00 396.56,39.56 399.29,40.26C402.01,40.96 404.74,41.99 407.46,42.89C410.19,43.80 412.92,44.83 415.64,45.68C418.37,46.54 421.09,47.28 423.82,48.04C426.54,48.80 429.27,49.43 432.00,50.25C434.72,51.06 437.45,52.01 440.17,52.94C442.90,53.87 445.62,54.85 448.35,55.82C451.08,56.79 453.80,57.81 456.53,58.77C459.25,59.74 461.98,60.61 464.70,61.60C467.43,62.59 470.16,63.64 472.88,64.72C475.61,65.80 478.33,67.16 481.06,68.08C483.78,68.99 486.51,69.83 489.23,70.21C491.96,70.58 494.69,70.31 497.41,70.34C500.14,70.36 502.86,70.39 505.59,70.36C508.31,70.33 511.04,70.20 513.77,70.15C516.49,70.09 519.22,69.93 521.94,70.02C524.67,70.10 527.39,70.40 530.12,70.66C532.85,70.92 535.57,71.29 538.30,71.58C541.02,71.88 543.75,72.19 546.47,72.45C549.20,72.71 551.93,72.98 554.65,73.12C557.38,73.27 561.47,73.28 562.83,73.32" stroke="#d81c1c" stroke-opacity="0.30" stroke-width="1.00"/>
<path d="M39.50,54.30C40.86,55.24 44.95,58.17 47.68,59.93C50.40,61.69 53.13,63.27 55.85,64.85C58.58,66.44 61.31,67.93 64.03,69.43C66.76,70.92 69.48,72.41 72.21,73.80C74.93,75.19 77.66,76.64 80.38,77.79C83.11,78.95 85.84,79.88 88.56,80.73C91.29,81.57 94.01,82.13 96.74,82.86C99.46,83.60 102.19,84.32 104.92,85.14C107.64,85.97 110.37,86.82 113.09,87.83C115.82,88.83 118.54,89.92 121.27,91.18C124.00,92.45 126.72,93.86 129.45,95.44C132.17,97.02 134.90,99.00 137.62,100.67C140.35,102.33 143.08,104.13 145.80,105.43C148.53,106.72 151.25,107.78 153.98,108.44C156.70,109.09 159.43,109.33 162.16,109.36C164.88,109.40 167.61,109.04 170.33,108.66C173.06,108.29 175.78,107.73 178.51,107.10C181.23,106.48 183.96,105.60 186.69,104.89C189.41,104.19 192.14,103.34 194.86,102.88C197.59,102.43 200.31,102.29 203.04,102.15C205.77,102.01 208.49,102.14 211.22,102.03C213.94,101.91 216.67,101.75 219.39,101.47C222.12,101.18 224.85,100.84 227.57,100.30C230.30,99.77 233.02,99.10 235.75,98.26C238.47,97.43 241.20,96.27 243.92,95.31C246.65,94.35 249.38,93.26 252.10,92.51C254.83,91.76 257.55,91.32 260.28,90.80C263.00,90.29 265.73,90.01 268.46,89.40C271.18,88.79 273.91,88.22 276.63,87.16C279.36,86.09 282.08,84.72 284.81,83.04C287.54,81.35 290.26,79.34 292.99,77.06C295.71,74.77 298.44,71.87 301.16,69.34C303.89,66.81 306.62,64.16 309.34,61.87C312.07,59.58 314.79,57.46 317.52,55.59C320.24,53.73 322.97,52.04 325.69,50.67C328.42,49.29 331.15,48.07 333.87,47.34C336.60,46.62 339.32,46.62 342.05,46.32C344.77,46.02 347.50,45.83 350.23,45.55C352.95,45.27 355.68,45.10 358.40,44.64C361.13,44.18 363.85,43.46 366.58,42.79C369.31,42.11 372.03,41.17 374.76,40.57C377.48,39.97 380.21,39.51 382.93,39.19C385.66,38.88 388.39,38.69 391.11,38.68C393.84,38.68 396.56,38.78 399.29,39.19C402.01,39.60 404.74,40.26 407.46,41.14C410.19,42.02 412.92,43.39 415.64,44.47C418.37,45.55 421.09,46.72 423.82,47.61C426.54,48.50 429.27,49.13 432.00,49.82C434.72,50.52 437.45,51.08 440.17,51.78C442.90,52.49 445.62,53.24 448.35,54.05C451.08,54.86 453.80,55.71 456.53,56.65C459.25,57.59 461.98,58.69 464.70,59.71C467.43,60.74 470.16,61.75 472.88,62.81C475.61,63.87 478.33,65.04 481.06,66.07C483.78,67.11 486.51,68.26 489.23,69.02C491.96,69.78 494.69,70.43 497.41,70.64C500.14,70.85 502.86,70.38 505.59,70.29C508.31,70.20 511.04,70.19 513.77,70.09C516.49,69.99 519.22,69.78 521.94,69.68C524.67,69.59 527.39,69.43 530.12,69.52C532.85,69.60 535.57,69.93 538.30,70.19C541.02,70.45 543.75,70.80 546.47,71.08C549.20,71.37 551.93,71.66 554.65,71.90C557.38,72.15 561.47,72.43 562.83,72.54" stroke="#d81c1c" stroke-opacity="0.22" stroke-width="0.95"/>
<path d="M39.50,50.90C40.86,51.79 44.95,54.53 47.68,56.22C50.40,57.90 53.13,59.46 55.85,61.00C58.58,62.55 61.31,64.02 64.03,65.50C66.76,66.98 69.48,68.49 72.21,69.90C74.93,71.32 77.66,72.79 80.38,73.99C83.11,75.20 85.84,76.20 88.56,77.12C91.29,78.05 94.01,78.70 96.74,79.53C99.46,80.37 102.19,81.19 104.92,82.14C107.64,83.08 110.37,84.07 113.09,85.21C115.82,86.36 118.54,87.60 121.27,88.99C124.00,90.37 126.72,91.84 129.45,93.51C132.17,95.19 134.90,97.25 137.62,99.02C140.35,100.79 143.08,102.68 145.80,104.12C148.53,105.56 151.25,106.79 153.98,107.66C156.70,108.52 159.43,108.99 162.16,109.30C164.88,109.61 167.61,109.74 170.33,109.54C173.06,109.34 175.78,108.69 178.51,108.10C181.23,107.51 183.96,106.69 186.69,106.02C189.41,105.34 192.14,104.60 194.86,104.06C197.59,103.51 200.31,103.16 203.04,102.76C205.77,102.36 208.49,102.04 211.22,101.67C213.94,101.31 216.67,100.97 219.39,100.56C222.12,100.16 224.85,99.80 227.57,99.26C230.30,98.73 233.02,98.17 235.75,97.37C238.47,96.57 241.20,95.52 243.92,94.48C246.65,93.44 249.38,92.03 252.10,91.14C254.83,90.25 257.55,89.59 260.28,89.13C263.00,88.67 265.73,88.69 268.46,88.36C271.18,88.03 273.91,87.79 276.63,87.13C279.36,86.47 282.08,85.60 284.81,84.42C287.54,83.25 290.26,81.77 292.99,80.06C295.71,78.35 298.44,76.31 301.16,74.16C303.89,72.02 306.62,69.50 309.34,67.17C312.07,64.84 314.79,62.34 317.52,60.19C320.24,58.04 322.97,55.90 325.69,54.28C328.42,52.66 331.15,51.39 333.87,50.47C336.60,49.54 339.32,49.23 342.05,48.72C344.77,48.21 347.50,47.73 350.23,47.39C352.95,47.05 355.68,46.98 358.40,46.67C361.13,46.36 363.85,46.13 366.58,45.53C369.31,44.92 372.03,43.83 374.76,43.03C377.48,42.22 380.21,41.31 382.93,40.72C385.66,40.13 388.39,39.73 391.11,39.47C393.84,39.21 396.56,39.06 399.29,39.16C402.01,39.26 404.74,39.48 407.46,40.07C410.19,40.67 412.92,41.67 415.64,42.72C418.37,43.77 421.09,45.27 423.82,46.37C426.54,47.47 429.27,48.51 432.00,49.33C434.72,50.16 437.45,50.71 440.17,51.31C442.90,51.90 445.62,52.30 448.35,52.90C451.08,53.50 453.80,54.14 456.53,54.93C459.25,55.72 461.98,56.64 464.70,57.65C467.43,58.65 470.16,59.87 472.88,60.96C475.61,62.05 478.33,63.18 481.06,64.19C483.78,65.21 486.51,66.19 489.23,67.07C491.96,67.95 494.69,68.90 497.41,69.49C500.14,70.07 502.86,70.48 505.59,70.57C508.31,70.67 511.04,70.19 513.77,70.04C516.49,69.88 519.22,69.79 521.94,69.65C524.67,69.52 527.39,69.31 530.12,69.22C532.85,69.13 535.57,69.03 538.30,69.12C541.02,69.22 543.75,69.53 546.47,69.78C549.20,70.03 551.93,70.35 554.65,70.62C557.38,70.90 561.47,71.28 562.83,71.41" stroke="#14b04a" stroke-opacity="1.00" stroke-width="1.25"/>
<path d="M39.50,48.05C40.86,48.85 44.95,51.33 47.68,52.89C50.40,54.45 53.13,55.93 55.85,57.41C58.58,58.90 61.31,60.34 64.03,61.80C66.76,63.25 69.48,64.72 72.21,66.14C74.93,67.55 77.66,69.03 80.38,70.27C83.11,71.50 85.84,72.55 88.56,73.53C91.29,74.51 94.01,75.24 96.74,76.15C99.46,77.06 102.19,77.96 104.92,78.99C107.64,80.03 110.37,81.10 113.09,82.34C115.82,83.58 118.54,84.95 121.27,86.44C124.00,87.94 126.72,89.55 129.45,91.31C132.17,93.07 134.90,95.17 137.62,97.02C140.35,98.86 143.08,100.84 145.80,102.39C148.53,103.94 151.25,105.29 153.98,106.31C156.70,107.33 159.43,107.99 162.16,108.51C164.88,109.04 167.61,109.39 170.33,109.47C173.06,109.54 175.78,109.37 178.51,108.96C181.23,108.55 183.96,107.65 186.69,107.02C189.41,106.38 192.14,105.69 194.86,105.17C197.59,104.65 200.31,104.37 203.04,103.89C205.77,103.40 208.49,102.88 211.22,102.28C213.94,101.68 216.67,100.92 219.39,100.29C222.12,99.66 224.85,99.13 227.57,98.50C230.30,97.87 233.02,97.29 235.75,96.51C238.47,95.73 241.20,94.79 243.92,93.80C246.65,92.80 249.38,91.51 252.10,90.54C254.83,89.57 257.55,88.59 260.28,87.98C263.00,87.37 265.73,87.16 268.46,86.87C271.18,86.59 273.91,86.64 276.63,86.25C279.36,85.85 282.08,85.31 284.81,84.52C287.54,83.74 290.26,82.75 292.99,81.52C295.71,80.29 298.44,78.77 301.16,77.16C303.89,75.55 306.62,73.85 309.34,71.87C312.07,69.90 314.79,67.52 317.52,65.33C320.24,63.14 322.97,60.63 325.69,58.73C328.42,56.83 331.15,55.11 333.87,53.93C336.60,52.74 339.32,52.36 342.05,51.64C344.77,50.93 347.50,50.18 350.23,49.64C352.95,49.09 355.68,48.75 358.40,48.38C361.13,48.01 363.85,47.89 366.58,47.43C369.31,46.97 372.03,46.36 374.76,45.63C377.48,44.90 380.21,43.84 382.93,43.06C385.66,42.27 388.39,41.45 391.11,40.92C393.84,40.39 396.56,40.04 399.29,39.89C402.01,39.74 404.74,39.72 407.46,40.01C410.19,40.30 412.92,40.87 415.64,41.64C418.37,42.40 421.09,43.54 423.82,44.61C426.54,45.68 429.27,47.04 432.00,48.07C434.72,49.09 437.45,50.05 440.17,50.77C442.90,51.49 445.62,51.89 448.35,52.39C451.08,52.90 453.80,53.19 456.53,53.79C459.25,54.38 461.98,55.10 464.70,55.96C467.43,56.81 470.16,57.86 472.88,58.93C475.61,59.99 478.33,61.31 481.06,62.36C483.78,63.41 486.51,64.36 489.23,65.23C491.96,66.10 494.69,66.89 497.41,67.60C500.14,68.31 502.86,69.03 505.59,69.48C508.31,69.93 511.04,70.30 513.77,70.32C516.49,70.35 519.22,69.80 521.94,69.62C524.67,69.43 527.39,69.34 530.12,69.22C532.85,69.09 535.57,68.93 538.30,68.86C541.02,68.79 543.75,68.69 546.47,68.78C549.20,68.87 551.93,69.16 554.65,69.40C557.38,69.64 561.47,70.07 562.83,70.21" stroke="#14b04a" stroke-opacity="0.92" stroke-width="1.20"/>
<path d="M39.50,45.70C40.86,46.42 44.95,48.65 47.68,50.07C50.40,51.48 53.13,52.80 55.85,54.18C58.58,55.55 61.31,56.93 64.03,58.33C66.76,59.72 69.48,61.18 72.21,62.57C74.93,63.95 77.66,65.41 80.38,66.64C83.11,67.88 85.84,68.96 88.56,69.98C91.29,71.00 94.01,71.78 96.74,72.75C99.46,73.71 102.19,74.68 104.92,75.78C107.64,76.87 110.37,78.02 113.09,79.33C115.82,80.64 118.54,82.06 121.27,83.64C124.00,85.21 126.72,86.92 129.45,88.77C132.17,90.63 134.90,92.83 137.62,94.76C140.35,96.68 143.08,98.70 145.80,100.33C148.53,101.96 151.25,103.41 153.98,104.55C156.70,105.70 159.43,106.49 162.16,107.19C164.88,107.88 167.61,108.42 170.33,108.71C173.06,109.00 175.78,109.05 178.51,108.92C181.23,108.78 183.96,108.34 186.69,107.88C189.41,107.42 192.14,106.65 194.86,106.16C197.59,105.67 200.31,105.42 203.04,104.96C205.77,104.49 208.49,104.04 211.22,103.37C213.94,102.70 216.67,101.77 219.39,100.93C222.12,100.09 224.85,99.17 227.57,98.33C230.30,97.49 233.02,96.77 235.75,95.90C238.47,95.04 241.20,94.11 243.92,93.13C246.65,92.16 249.38,90.99 252.10,90.06C254.83,89.12 257.55,88.23 260.28,87.54C263.00,86.84 265.73,86.31 268.46,85.87C271.18,85.43 273.91,85.26 276.63,84.91C279.36,84.57 282.08,84.32 284.81,83.79C287.54,83.26 290.26,82.59 292.99,81.74C295.71,80.89 298.44,79.83 301.16,78.68C303.89,77.53 306.62,76.30 309.34,74.84C312.07,73.38 314.79,71.76 317.52,69.91C320.24,68.05 322.97,65.66 325.69,63.71C328.42,61.75 331.15,59.67 333.87,58.20C336.60,56.73 339.32,55.87 342.05,54.90C344.77,53.93 347.50,53.13 350.23,52.39C352.95,51.66 355.68,51.05 358.40,50.48C361.13,49.92 363.85,49.53 366.58,49.03C369.31,48.52 372.03,48.02 374.76,47.44C377.48,46.86 380.21,46.26 382.93,45.55C385.66,44.83 388.39,43.86 391.11,43.14C393.84,42.43 396.56,41.67 399.29,41.26C402.01,40.85 404.74,40.63 407.46,40.67C410.19,40.71 412.92,41.04 415.64,41.51C418.37,41.98 421.09,42.69 423.82,43.49C426.54,44.29 429.27,45.31 432.00,46.31C434.72,47.32 437.45,48.58 440.17,49.50C442.90,50.42 445.62,51.21 448.35,51.83C451.08,52.46 453.80,52.77 456.53,53.26C459.25,53.76 461.98,54.15 464.70,54.82C467.43,55.49 470.16,56.33 472.88,57.26C475.61,58.18 478.33,59.33 481.06,60.36C483.78,61.38 486.51,62.52 489.23,63.43C491.96,64.34 494.69,65.11 497.41,65.82C500.14,66.53 502.86,67.10 505.59,67.68C508.31,68.25 511.04,68.91 513.77,69.29C516.49,69.66 519.22,69.93 521.94,69.91C524.67,69.90 527.39,69.37 530.12,69.20C532.85,69.03 535.57,68.98 538.30,68.87C541.02,68.76 543.75,68.61 546.47,68.54C549.20,68.47 551.93,68.37 554.65,68.46C557.38,68.55 561.47,68.96 562.83,69.06" stroke="#14b04a" stroke-opacity="0.82" stroke-width="1.15"/>
<path d="M39.50,43.79C40.86,44.45 44.95,46.46 47.68,47.73C50.40,49.00 53.13,50.18 55.85,51.42C58.58,52.66 61.31,53.89 64.03,55.19C66.76,56.49 69.48,57.87 72.21,59.21C74.93,60.54 77.66,61.98 80.38,63.20C83.11,64.42 85.84,65.49 88.56,66.52C91.29,67.55 94.01,68.38 96.74,69.38C99.46,70.39 102.19,71.40 104.92,72.54C107.64,73.68 110.37,74.87 113.09,76.23C115.82,77.59 118.54,79.07 121.27,80.70C124.00,82.32 126.72,84.08 129.45,85.99C132.17,87.91 134.90,90.18 137.62,92.18C140.35,94.19 143.08,96.31 145.80,98.02C148.53,99.74 151.25,101.25 153.98,102.49C156.70,103.73 159.43,104.65 162.16,105.47C164.88,106.29 167.61,106.97 170.33,107.43C173.06,107.89 175.78,108.14 178.51,108.21C181.23,108.29 183.96,108.09 186.69,107.89C189.41,107.69 192.14,107.36 194.86,107.03C197.59,106.70 200.31,106.35 203.04,105.92C205.77,105.48 208.49,105.07 211.22,104.42C213.94,103.77 216.67,102.94 219.39,102.04C222.12,101.14 224.85,100.06 227.57,99.02C230.30,97.99 233.02,96.90 235.75,95.85C238.47,94.79 241.20,93.74 243.92,92.69C246.65,91.64 249.38,90.49 252.10,89.57C254.83,88.66 257.55,87.87 260.28,87.20C263.00,86.53 265.73,86.06 268.46,85.53C271.18,85.01 273.91,84.52 276.63,84.03C279.36,83.55 282.08,83.10 284.81,82.62C287.54,82.14 290.26,81.75 292.99,81.15C295.71,80.55 298.44,79.81 301.16,79.01C303.89,78.22 306.62,77.43 309.34,76.40C312.07,75.37 314.79,74.20 317.52,72.83C320.24,71.46 322.97,69.80 325.69,68.16C328.42,66.52 331.15,64.52 333.87,62.99C336.60,61.45 339.32,60.20 342.05,58.95C344.77,57.70 347.50,56.46 350.23,55.48C352.95,54.50 355.68,53.83 358.40,53.09C361.13,52.35 363.85,51.70 366.58,51.02C369.31,50.33 372.03,49.60 374.76,48.98C377.48,48.35 380.21,47.86 382.93,47.29C385.66,46.71 388.39,46.18 391.11,45.52C393.84,44.87 396.56,43.97 399.29,43.38C402.01,42.78 404.74,42.16 407.46,41.95C410.19,41.73 412.92,41.86 415.64,42.08C418.37,42.30 421.09,42.77 423.82,43.29C426.54,43.80 429.27,44.42 432.00,45.17C434.72,45.91 437.45,46.86 440.17,47.76C442.90,48.66 445.62,49.75 448.35,50.57C451.08,51.39 453.80,52.07 456.53,52.69C459.25,53.31 461.98,53.71 464.70,54.28C467.43,54.85 470.16,55.38 472.88,56.11C475.61,56.85 478.33,57.80 481.06,58.70C483.78,59.59 486.51,60.57 489.23,61.46C491.96,62.36 494.69,63.32 497.41,64.07C500.14,64.82 502.86,65.38 505.59,65.97C508.31,66.55 511.04,67.07 513.77,67.57C516.49,68.06 519.22,68.61 521.94,68.94C524.67,69.26 527.39,69.51 530.12,69.50C532.85,69.49 535.57,69.03 538.30,68.87C541.02,68.71 543.75,68.67 546.47,68.56C549.20,68.46 551.93,68.31 554.65,68.25C557.38,68.18 561.47,68.18 562.83,68.17" stroke="#14b04a" stroke-opacity="0.70" stroke-width="1.10"/>
<path d="M39.50,42.24C40.86,42.84 44.95,44.67 47.68,45.82C50.40,46.97 53.13,48.01 55.85,49.12C58.58,50.24 61.31,51.33 64.03,52.50C66.76,53.67 69.48,54.92 72.21,56.16C74.93,57.40 77.66,58.78 80.38,59.95C83.11,61.13 85.84,62.20 88.56,63.22C91.29,64.25 94.01,65.07 96.74,66.09C99.46,67.10 102.19,68.15 104.92,69.31C107.64,70.48 110.37,71.71 113.09,73.10C115.82,74.49 118.54,76.01 121.27,77.67C124.00,79.33 126.72,81.12 129.45,83.07C132.17,85.02 134.90,87.32 137.62,89.37C140.35,91.43 143.08,93.62 145.80,95.42C148.53,97.23 151.25,98.85 153.98,100.19C156.70,101.53 159.43,102.52 162.16,103.45C164.88,104.38 167.61,105.18 170.33,105.77C173.06,106.36 175.78,106.76 178.51,107.00C181.23,107.25 183.96,107.24 186.69,107.25C189.41,107.26 192.14,107.15 194.86,107.07C197.59,106.99 200.31,107.04 203.04,106.76C205.77,106.48 208.49,105.97 211.22,105.36C213.94,104.75 216.67,103.96 219.39,103.10C222.12,102.23 224.85,101.24 227.57,100.16C230.30,99.08 233.02,97.85 235.75,96.61C238.47,95.38 241.20,93.98 243.92,92.76C246.65,91.54 249.38,90.28 252.10,89.29C254.83,88.31 257.55,87.52 260.28,86.85C263.00,86.18 265.73,85.80 268.46,85.29C271.18,84.78 273.91,84.36 276.63,83.78C279.36,83.21 282.08,82.47 284.81,81.86C287.54,81.25 290.26,80.68 292.99,80.13C295.71,79.58 298.44,79.11 301.16,78.56C303.89,78.01 306.62,77.50 309.34,76.81C312.07,76.11 314.79,75.37 317.52,74.40C320.24,73.44 322.97,72.22 325.69,71.04C328.42,69.85 331.15,68.55 333.87,67.29C336.60,66.04 339.32,64.85 342.05,63.52C344.77,62.20 347.50,60.60 350.23,59.35C352.95,58.10 355.68,57.00 358.40,56.03C361.13,55.05 363.85,54.35 366.58,53.50C369.31,52.64 372.03,51.68 374.76,50.89C377.48,50.10 380.21,49.38 382.93,48.77C385.66,48.15 388.39,47.72 391.11,47.20C393.84,46.68 396.56,46.19 399.29,45.65C402.01,45.11 404.74,44.35 407.46,43.95C410.19,43.55 412.92,43.28 415.64,43.25C418.37,43.22 421.09,43.49 423.82,43.77C426.54,44.04 429.27,44.44 432.00,44.91C434.72,45.38 437.45,45.94 440.17,46.60C442.90,47.26 445.62,48.05 448.35,48.86C451.08,49.66 453.80,50.64 456.53,51.44C459.25,52.25 461.98,53.00 464.70,53.69C467.43,54.37 470.16,54.90 472.88,55.54C475.61,56.18 478.33,56.83 481.06,57.54C483.78,58.25 486.51,59.06 489.23,59.83C491.96,60.60 494.69,61.42 497.41,62.16C500.14,62.90 502.86,63.65 505.59,64.28C508.31,64.91 511.04,65.42 513.77,65.93C516.49,66.43 519.22,66.86 521.94,67.30C524.67,67.74 527.39,68.27 530.12,68.58C532.85,68.89 535.57,69.17 538.30,69.17C541.02,69.17 543.75,68.72 546.47,68.58C549.20,68.43 551.93,68.38 554.65,68.28C557.38,68.18 561.47,68.03 562.83,67.98" stroke="#14b04a" stroke-opacity="0.57" stroke-width="1.05"/>
<path d="M39.50,40.96C40.86,41.51 44.95,43.21 47.68,44.25C50.40,45.30 53.13,46.23 55.85,47.23C58.58,48.23 61.31,49.20 64.03,50.25C66.76,51.30 69.48,52.41 72.21,53.54C74.93,54.66 77.66,55.90 80.38,56.99C83.11,58.09 85.84,59.11 88.56,60.10C91.29,61.09 94.01,61.92 96.74,62.93C99.46,63.94 102.19,64.97 104.92,66.15C107.64,67.32 110.37,68.57 113.09,69.98C115.82,71.39 118.54,72.92 121.27,74.60C124.00,76.28 126.72,78.10 129.45,80.07C132.17,82.04 134.90,84.35 137.62,86.44C140.35,88.53 143.08,90.74 145.80,92.60C148.53,94.46 151.25,96.17 153.98,97.61C156.70,99.04 159.43,100.17 162.16,101.20C164.88,102.24 167.61,103.12 170.33,103.82C173.06,104.52 175.78,105.04 178.51,105.43C181.23,105.81 183.96,105.95 186.69,106.13C189.41,106.31 192.14,106.37 194.86,106.49C197.59,106.60 200.31,106.86 203.04,106.81C205.77,106.76 208.49,106.65 211.22,106.20C213.94,105.74 216.67,104.88 219.39,104.05C222.12,103.23 224.85,102.30 227.57,101.25C230.30,100.21 233.02,99.07 235.75,97.80C238.47,96.53 241.20,95.00 243.92,93.62C246.65,92.23 249.38,90.65 252.10,89.49C254.83,88.34 257.55,87.43 260.28,86.68C263.00,85.94 265.73,85.54 268.46,85.03C271.18,84.52 273.91,84.17 276.63,83.62C279.36,83.07 282.08,82.39 284.81,81.71C287.54,81.02 290.26,80.17 292.99,79.50C295.71,78.83 298.44,78.19 301.16,77.68C303.89,77.17 306.62,76.92 309.34,76.45C312.07,75.99 314.79,75.51 317.52,74.87C320.24,74.24 322.97,73.42 325.69,72.62C328.42,71.82 331.15,70.92 333.87,70.09C336.60,69.26 339.32,68.70 342.05,67.64C344.77,66.58 347.50,65.05 350.23,63.73C352.95,62.41 355.68,60.96 358.40,59.73C361.13,58.49 363.85,57.38 366.58,56.31C369.31,55.23 372.03,54.23 374.76,53.28C377.48,52.33 380.21,51.39 382.93,50.61C385.66,49.84 388.39,49.18 391.11,48.62C393.84,48.06 396.56,47.67 399.29,47.26C402.01,46.84 404.74,46.48 407.46,46.12C410.19,45.77 412.92,45.34 415.64,45.13C418.37,44.91 421.09,44.79 423.82,44.82C426.54,44.85 429.27,45.06 432.00,45.30C434.72,45.55 437.45,45.90 440.17,46.29C442.90,46.69 445.62,47.12 448.35,47.70C451.08,48.28 453.80,48.97 456.53,49.76C459.25,50.55 461.98,51.59 464.70,52.45C467.43,53.31 470.16,54.18 472.88,54.92C475.61,55.67 478.33,56.31 481.06,56.93C483.78,57.56 486.51,58.07 489.23,58.67C491.96,59.27 494.69,59.93 497.41,60.56C500.14,61.18 502.86,61.81 505.59,62.43C508.31,63.06 511.04,63.76 513.77,64.31C516.49,64.86 519.22,65.28 521.94,65.73C524.67,66.19 527.39,66.59 530.12,67.02C532.85,67.45 535.57,67.99 538.30,68.30C541.02,68.61 543.75,68.87 546.47,68.87C549.20,68.87 551.93,68.45 554.65,68.30C557.38,68.16 561.47,68.07 562.83,68.02" stroke="#14b04a" stroke-opacity="0.44" stroke-width="1.00"/>
<path d="M39.50,39.89C40.86,40.40 44.95,41.98 47.68,42.95C50.40,43.91 53.13,44.76 55.85,45.67C58.58,46.58 61.31,47.45 64.03,48.39C66.76,49.33 69.48,50.33 72.21,51.33C74.93,52.34 77.66,53.45 80.38,54.44C83.11,55.42 85.84,56.33 88.56,57.24C91.29,58.16 94.01,58.96 96.74,59.93C99.46,60.91 102.19,61.94 104.92,63.11C107.64,64.27 110.37,65.50 113.09,66.91C115.82,68.31 118.54,69.86 121.27,71.54C124.00,73.23 126.72,75.05 129.45,77.03C132.17,79.01 134.90,81.32 137.62,83.42C140.35,85.52 143.08,87.75 145.80,89.65C148.53,91.55 151.25,93.30 153.98,94.81C156.70,96.31 159.43,97.54 162.16,98.68C164.88,99.82 167.61,100.83 170.33,101.64C173.06,102.45 175.78,103.06 178.51,103.56C181.23,104.06 183.96,104.33 186.69,104.64C189.41,104.95 192.14,105.16 194.86,105.43C197.59,105.70 200.31,106.12 203.04,106.26C205.77,106.40 208.49,106.49 211.22,106.26C213.94,106.04 216.67,105.57 219.39,104.90C222.12,104.23 224.85,103.24 227.57,102.24C230.30,101.25 233.02,100.17 235.75,98.94C238.47,97.71 241.20,96.29 243.92,94.87C246.65,93.46 249.38,91.75 252.10,90.44C254.83,89.12 257.55,87.89 260.28,86.97C263.00,86.06 265.73,85.53 268.46,84.94C271.18,84.35 273.91,83.98 276.63,83.43C279.36,82.88 282.08,82.29 284.81,81.63C287.54,80.96 290.26,80.19 292.99,79.44C295.71,78.70 298.44,77.79 301.16,77.16C303.89,76.54 306.62,76.11 309.34,75.68C312.07,75.26 314.79,75.03 317.52,74.61C320.24,74.18 322.97,73.63 325.69,73.14C328.42,72.65 331.15,72.12 333.87,71.65C336.60,71.18 339.32,70.99 342.05,70.32C344.77,69.66 347.50,68.75 350.23,67.69C352.95,66.62 355.68,65.23 358.40,63.93C361.13,62.62 363.85,61.18 366.58,59.86C369.31,58.53 372.03,57.15 374.76,55.99C377.48,54.84 380.21,53.85 382.93,52.92C385.66,51.99 388.39,51.12 391.11,50.41C393.84,49.69 396.56,49.09 399.29,48.63C402.01,48.17 404.74,47.89 407.46,47.65C410.19,47.40 412.92,47.35 415.64,47.17C418.37,46.99 421.09,46.73 423.82,46.58C426.54,46.42 429.27,46.26 432.00,46.27C434.72,46.28 437.45,46.44 440.17,46.62C442.90,46.81 445.62,47.03 448.35,47.37C451.08,47.70 453.80,48.04 456.53,48.61C459.25,49.19 461.98,49.95 464.70,50.79C467.43,51.64 470.16,52.77 472.88,53.68C475.61,54.60 478.33,55.56 481.06,56.29C483.78,57.02 486.51,57.52 489.23,58.05C491.96,58.57 494.69,58.94 497.41,59.42C500.14,59.89 502.86,60.36 505.59,60.88C508.31,61.40 511.04,61.98 513.77,62.53C516.49,63.08 519.22,63.68 521.94,64.18C524.67,64.68 527.39,65.08 530.12,65.52C532.85,65.96 535.57,66.38 538.30,66.80C541.02,67.23 543.75,67.75 546.47,68.05C549.20,68.34 551.93,68.60 554.65,68.60C557.38,68.60 561.47,68.14 562.83,68.05" stroke="#14b04a" stroke-opacity="0.32" stroke-width="1.00"/>
<path d="M39.50,39.00C40.86,39.47 44.95,40.95 47.68,41.84C50.40,42.73 53.13,43.53 55.85,44.36C58.58,45.19 61.31,45.98 64.03,46.84C66.76,47.70 69.48,48.59 72.21,49.50C74.93,50.41 77.66,51.40 80.38,52.28C83.11,53.16 85.84,53.95 88.56,54.77C91.29,55.59 94.01,56.28 96.74,57.19C99.46,58.09 102.19,59.08 104.92,60.21C107.64,61.34 110.37,62.56 113.09,63.95C115.82,65.33 118.54,66.85 121.27,68.52C124.00,70.20 126.72,72.02 129.45,73.99C132.17,75.97 134.90,78.26 137.62,80.37C140.35,82.48 143.08,84.71 145.80,86.63C148.53,88.55 151.25,90.33 153.98,91.88C156.70,93.44 159.43,94.72 162.16,95.94C164.88,97.16 167.61,98.27 170.33,99.19C173.06,100.11 175.78,100.85 178.51,101.47C181.23,102.08 183.96,102.44 186.69,102.87C189.41,103.30 192.14,103.63 194.86,104.02C197.59,104.42 200.31,104.96 203.04,105.25C205.77,105.54 208.49,105.79 211.22,105.75C213.94,105.71 216.67,105.45 219.39,105.01C222.12,104.58 224.85,103.97 227.57,103.13C230.30,102.29 233.02,101.15 235.75,99.97C238.47,98.80 241.20,97.44 243.92,96.07C246.65,94.71 249.38,93.11 252.10,91.76C254.83,90.41 257.55,89.06 260.28,87.98C263.00,86.90 265.73,86.04 268.46,85.28C271.18,84.52 273.91,84.02 276.63,83.40C279.36,82.77 282.08,82.17 284.81,81.51C287.54,80.85 290.26,80.16 292.99,79.44C295.71,78.72 298.44,77.88 301.16,77.19C303.89,76.49 306.62,75.80 309.34,75.26C312.07,74.71 314.79,74.32 317.52,73.93C320.24,73.54 322.97,73.23 325.69,72.94C328.42,72.65 331.15,72.37 333.87,72.19C336.60,72.00 339.32,72.14 342.05,71.82C344.77,71.50 347.50,70.95 350.23,70.27C352.95,69.59 355.68,68.80 358.40,67.74C361.13,66.68 363.85,65.29 366.58,63.91C369.31,62.52 372.03,60.82 374.76,59.43C377.48,58.03 380.21,56.68 382.93,55.55C385.66,54.42 388.39,53.51 391.11,52.64C393.84,51.77 396.56,50.96 399.29,50.35C402.01,49.73 404.74,49.24 407.46,48.95C410.19,48.66 412.92,48.68 415.64,48.61C418.37,48.53 421.09,48.61 423.82,48.49C426.54,48.38 429.27,48.07 432.00,47.90C434.72,47.74 437.45,47.55 440.17,47.51C442.90,47.46 445.62,47.52 448.35,47.65C451.08,47.77 453.80,47.93 456.53,48.26C459.25,48.59 461.98,49.02 464.70,49.65C467.43,50.28 470.16,51.14 472.88,52.04C475.61,52.94 478.33,54.16 481.06,55.05C483.78,55.94 486.51,56.76 489.23,57.38C491.96,58.01 494.69,58.39 497.41,58.79C500.14,59.19 502.86,59.40 505.59,59.77C508.31,60.14 511.04,60.58 513.77,61.03C516.49,61.48 519.22,61.97 521.94,62.47C524.67,62.97 527.39,63.55 530.12,64.03C532.85,64.51 535.57,64.94 538.30,65.37C541.02,65.80 543.75,66.21 546.47,66.62C549.20,67.02 551.93,67.52 554.65,67.81C557.38,68.10 561.47,68.26 562.83,68.35" stroke="#14b04a" stroke-opacity="0.22" stroke-width="0.95"/>
<path d="M39.50,38.28C40.86,38.72 44.95,40.09 47.68,40.91C50.40,41.74 53.13,42.47 55.85,43.24C58.58,44.01 61.31,44.75 64.03,45.53C66.76,46.32 69.48,47.14 72.21,47.97C74.93,48.79 77.66,49.69 80.38,50.48C83.11,51.26 85.84,51.95 88.56,52.68C91.29,53.40 94.01,53.99 96.74,54.80C99.46,55.61 102.19,56.49 104.92,57.55C107.64,58.60 110.37,59.78 113.09,61.12C115.82,62.47 118.54,63.97 121.27,65.61C124.00,67.26 126.72,69.04 129.45,70.99C132.17,72.94 134.90,75.23 137.62,77.32C140.35,79.42 143.08,81.64 145.80,83.57C148.53,85.50 151.25,87.30 153.98,88.89C156.70,90.47 159.43,91.81 162.16,93.08C164.88,94.35 167.61,95.52 170.33,96.53C173.06,97.53 175.78,98.38 178.51,99.11C181.23,99.83 183.96,100.34 186.69,100.87C189.41,101.41 192.14,101.83 194.86,102.33C197.59,102.84 200.31,103.49 203.04,103.90C205.77,104.31 208.49,104.68 211.22,104.80C213.94,104.91 216.67,104.82 219.39,104.57C222.12,104.32 224.85,103.91 227.57,103.30C230.30,102.69 233.02,101.93 235.75,100.91C238.47,99.89 241.20,98.49 243.92,97.18C246.65,95.86 249.38,94.33 252.10,93.03C254.83,91.72 257.55,90.46 260.28,89.34C263.00,88.22 265.73,87.23 268.46,86.30C271.18,85.38 273.91,84.57 276.63,83.78C279.36,82.99 282.08,82.28 284.81,81.55C287.54,80.82 290.26,80.12 292.99,79.41C295.71,78.69 298.44,77.94 301.16,77.27C303.89,76.59 306.62,75.96 309.34,75.35C312.07,74.73 314.79,74.08 317.52,73.58C320.24,73.08 322.97,72.60 325.69,72.35C328.42,72.09 331.15,72.03 333.87,72.03C336.60,72.03 339.32,72.38 342.05,72.33C344.77,72.28 347.50,72.07 350.23,71.72C352.95,71.37 355.68,70.92 358.40,70.23C361.13,69.54 363.85,68.73 366.58,67.58C369.31,66.44 372.03,64.80 374.76,63.35C377.48,61.90 380.21,60.24 382.93,58.88C385.66,57.52 388.39,56.25 391.11,55.19C393.84,54.13 396.56,53.27 399.29,52.51C402.01,51.74 404.74,51.05 407.46,50.60C410.19,50.16 412.92,49.96 415.64,49.83C418.37,49.71 421.09,49.85 423.82,49.83C426.54,49.81 429.27,49.84 432.00,49.71C434.72,49.58 437.45,49.25 440.17,49.04C442.90,48.84 445.62,48.55 448.35,48.46C451.08,48.37 453.80,48.36 456.53,48.50C459.25,48.63 461.98,48.87 464.70,49.27C467.43,49.67 470.16,50.21 472.88,50.90C475.61,51.59 478.33,52.54 481.06,53.41C483.78,54.29 486.51,55.36 489.23,56.15C491.96,56.93 494.69,57.62 497.41,58.12C500.14,58.62 502.86,58.85 505.59,59.15C508.31,59.46 511.04,59.64 513.77,59.95C516.49,60.26 519.22,60.62 521.94,61.02C524.67,61.43 527.39,61.90 530.12,62.39C532.85,62.87 535.57,63.46 538.30,63.94C541.02,64.41 543.75,64.82 546.47,65.24C549.20,65.65 551.93,66.05 554.65,66.44C557.38,66.83 561.47,67.40 562.83,67.59" stroke="#14b04a" stroke-opacity="0.13" stroke-width="0.90"/>
<path d="M39.50,37.73C40.86,38.14 44.95,39.39 47.68,40.15C50.40,40.91 53.13,41.59 55.85,42.30C58.58,43.01 61.31,43.69 64.03,44.42C66.76,45.14 69.48,45.91 72.21,46.67C74.93,47.42 77.66,48.25 80.38,48.96C83.11,49.67 85.84,50.28 88.56,50.92C91.29,51.55 94.01,52.06 96.74,52.77C99.46,53.49 102.19,54.27 104.92,55.23C107.64,56.19 110.37,57.25 113.09,58.52C115.82,59.78 118.54,61.23 121.27,62.82C124.00,64.42 126.72,66.18 129.45,68.09C132.17,70.01 134.90,72.24 137.62,74.31C140.35,76.38 143.08,78.59 145.80,80.52C148.53,82.44 151.25,84.25 153.98,85.86C156.70,87.46 159.43,88.83 162.16,90.14C164.88,91.46 167.61,92.68 170.33,93.74C173.06,94.81 175.78,95.73 178.51,96.54C181.23,97.35 183.96,97.96 186.69,98.61C189.41,99.26 192.14,99.81 194.86,100.42C197.59,101.03 200.31,101.75 203.04,102.27C205.77,102.78 208.49,103.27 211.22,103.50C213.94,103.74 216.67,103.78 219.39,103.68C222.12,103.58 224.85,103.34 227.57,102.92C230.30,102.50 233.02,101.93 235.75,101.14C238.47,100.35 241.20,99.33 243.92,98.17C246.65,97.01 249.38,95.45 252.10,94.19C254.83,92.94 257.55,91.73 260.28,90.64C263.00,89.56 265.73,88.65 268.46,87.68C271.18,86.71 273.91,85.77 276.63,84.82C279.36,83.87 282.08,82.87 284.81,81.98C287.54,81.10 290.26,80.29 292.99,79.51C295.71,78.73 298.44,77.98 301.16,77.31C303.89,76.63 306.62,76.08 309.34,75.48C312.07,74.89 314.79,74.29 317.52,73.72C320.24,73.15 322.97,72.43 325.69,72.06C328.42,71.69 331.15,71.47 333.87,71.48C336.60,71.50 339.32,72.05 342.05,72.17C344.77,72.30 347.50,72.31 350.23,72.22C352.95,72.13 355.68,72.00 358.40,71.63C361.13,71.26 363.85,70.79 366.58,70.00C369.31,69.22 372.03,68.14 374.76,66.93C377.48,65.71 380.21,64.11 382.93,62.70C385.66,61.28 388.39,59.71 391.11,58.42C393.84,57.14 396.56,55.93 399.29,54.98C402.01,54.02 404.74,53.28 407.46,52.68C410.19,52.09 412.92,51.68 415.64,51.40C418.37,51.12 421.09,51.05 423.82,50.98C426.54,50.91 429.27,51.00 432.00,50.97C434.72,50.93 437.45,50.93 440.17,50.75C442.90,50.58 445.62,50.17 448.35,49.92C451.08,49.67 453.80,49.33 456.53,49.26C459.25,49.19 461.98,49.26 464.70,49.47C467.43,49.67 470.16,50.03 472.88,50.49C475.61,50.96 478.33,51.59 481.06,52.26C483.78,52.93 486.51,53.76 489.23,54.53C491.96,55.31 494.69,56.24 497.41,56.90C500.14,57.56 502.86,58.09 505.59,58.50C508.31,58.90 511.04,59.10 513.77,59.35C516.49,59.59 519.22,59.71 521.94,59.98C524.67,60.26 527.39,60.59 530.12,60.99C532.85,61.38 535.57,61.87 538.30,62.35C541.02,62.82 543.75,63.39 546.47,63.85C549.20,64.31 551.93,64.71 554.65,65.11C557.38,65.51 561.47,66.08 562.83,66.27" stroke="#14b04a" stroke-opacity="0.06" stroke-width="0.90"/>
</g>
<path d="M39.5,6.5H546.5V186.3" fill="none" stroke="#7a7a7a" stroke-width="1"/>
<path d="M39.5,6.5V183.5H546.5" fill="none" stroke="#4a4a4a" stroke-width="1"/>
<g class="ticks"><line x1="39.5" x2="39.5" y1="183.5" y2="186.4"/><line x1="47.5" x2="47.5" y1="183.5" y2="188.8"/><line x1="55.5" x2="55.5" y1="183.5" y2="186.4"/><line x1="64.5" x2="64.5" y1="183.5" y2="186.4"/><line x1="72.5" x2="72.5" y1="183.5" y2="186.4"/><line x1="80.5" x2="80.5" y1="183.5" y2="186.4"/><line x1="88.5" x2="88.5" y1="183.5" y2="188.8"/><line x1="96.5" x2="96.5" y1="183.5" y2="186.4"/><line x1="104.5" x2="104.5" y1="183.5" y2="186.4"/><line x1="113.5" x2="113.5" y1="183.5" y2="186.4"/><line x1="121.5" x2="121.5" y1="183.5" y2="186.4"/><line x1="129.5" x2="129.5" y1="183.5" y2="188.8"/><line x1="137.5" x2="137.5" y1="183.5" y2="186.4"/><line x1="145.5" x2="145.5" y1="183.5" y2="186.4"/><line x1="153.5" x2="153.5" y1="183.5" y2="186.4"/><line x1="162.5" x2="162.5" y1="183.5" y2="186.4"/><line x1="170.5" x2="170.5" y1="183.5" y2="188.8"/><line x1="178.5" x2="178.5" y1="183.5" y2="186.4"/><line x1="186.5" x2="186.5" y1="183.5" y2="186.4"/><line x1="194.5" x2="194.5" y1="183.5" y2="186.4"/><line x1="203.5" x2="203.5" y1="183.5" y2="186.4"/><line x1="211.5" x2="211.5" y1="183.5" y2="188.8"/><line x1="219.5" x2="219.5" y1="183.5" y2="186.4"/><line x1="227.5" x2="227.5" y1="183.5" y2="186.4"/><line x1="235.5" x2="235.5" y1="183.5" y2="186.4"/><line x1="243.5" x2="243.5" y1="183.5" y2="186.4"/><line x1="252.5" x2="252.5" y1="183.5" y2="188.8"/><line x1="260.5" x2="260.5" y1="183.5" y2="186.4"/><line x1="268.5" x2="268.5" y1="183.5" y2="186.4"/><line x1="276.5" x2="276.5" y1="183.5" y2="186.4"/><line x1="284.5" x2="284.5" y1="183.5" y2="186.4"/><line x1="292.5" x2="292.5" y1="183.5" y2="188.8"/><line x1="301.5" x2="301.5" y1="183.5" y2="186.4"/><line x1="309.5" x2="309.5" y1="183.5" y2="186.4"/><line x1="317.5" x2="317.5" y1="183.5" y2="186.4"/><line x1="325.5" x2="325.5" y1="183.5" y2="186.4"/><line x1="333.5" x2="333.5" y1="183.5" y2="188.8"/><line x1="342.5" x2="342.5" y1="183.5" y2="186.4"/><line x1="350.5" x2="350.5" y1="183.5" y2="186.4"/><line x1="358.5" x2="358.5" y1="183.5" y2="186.4"/><line x1="366.5" x2="366.5" y1="183.5" y2="186.4"/><line x1="374.5" x2="374.5" y1="183.5" y2="188.8"/><line x1="382.5" x2="382.5" y1="183.5" y2="186.4"/><line x1="391.5" x2="391.5" y1="183.5" y2="186.4"/><line x1="399.5" x2="399.5" y1="183.5" y2="186.4"/><line x1="407.5" x2="407.5" y1="183.5" y2="186.4"/><line x1="415.5" x2="415.5" y1="183.5" y2="188.8"/><line x1="423.5" x2="423.5" y1="183.5" y2="186.4"/><line x1="431.5" x2="431.5" y1="183.5" y2="186.4"/><line x1="440.5" x2="440.5" y1="183.5" y2="186.4"/><line x1="448.5" x2="448.5" y1="183.5" y2="186.4"/><line x1="456.5" x2="456.5" y1="183.5" y2="188.8"/><line x1="464.5" x2="464.5" y1="183.5" y2="186.4"/><line x1="472.5" x2="472.5" y1="183.5" y2="186.4"/><line x1="481.5" x2="481.5" y1="183.5" y2="186.4"/><line x1="489.5" x2="489.5" y1="183.5" y2="186.4"/><line x1="497.5" x2="497.5" y1="183.5" y2="188.8"/><line x1="505.5" x2="505.5" y1="183.5" y2="186.4"/><line x1="513.5" x2="513.5" y1="183.5" y2="186.4"/><line x1="521.5" x2="521.5" y1="183.5" y2="186.4"/><line x1="530.5" x2="530.5" y1="183.5" y2="186.4"/><line x1="538.5" x2="538.5" y1="183.5" y2="188.8"/><line x1="37.9" x2="39.5" y1="6.40" y2="6.40"/><line x1="37.9" x2="39.5" y1="35.88" y2="35.88"/><line x1="37.9" x2="39.5" y1="65.36" y2="65.36"/><line x1="37.9" x2="39.5" y1="94.84" y2="94.84"/><line x1="37.9" x2="39.5" y1="124.32" y2="124.32"/><line x1="37.9" x2="39.5" y1="153.80" y2="153.80"/><line x1="37.9" x2="39.5" y1="183.28" y2="183.28"/></g>
<g class="yl"><text x="35.7" y="9.80" text-anchor="end">0</text><text x="35.7" y="39.28" text-anchor="end">-100</text><text x="35.7" y="68.76" text-anchor="end">-200</text><text x="35.7" y="98.24" text-anchor="end">-300</text><text x="35.7" y="127.72" text-anchor="end">-400</text><text x="35.7" y="157.20" text-anchor="end">-500</text><text x="35.7" y="186.68" text-anchor="end">-600</text></g>
<g class="xl"><text transform="translate(51.58,243.4) rotate(-90)">22/12/2009</text><text transform="translate(92.46,243.4) rotate(-90)">27/12/2009</text><text transform="translate(133.35,243.4) rotate(-90)">01/01/2010</text><text transform="translate(174.23,243.4) rotate(-90)">06/01/2010</text><text transform="translate(215.12,243.4) rotate(-90)">11/01/2010</text><text transform="translate(256.00,243.4) rotate(-90)">16/01/2010</text><text transform="translate(296.89,243.4) rotate(-90)">21/01/2010</text><text transform="translate(337.77,243.4) rotate(-90)">26/01/2010</text><text transform="translate(378.66,243.4) rotate(-90)">31/01/2010</text><text transform="translate(419.54,243.4) rotate(-90)">05/02/2010</text><text transform="translate(460.43,243.4) rotate(-90)">10/02/2010</text><text transform="translate(501.31,243.4) rotate(-90)">15/02/2010</text><text transform="translate(542.20,243.4) rotate(-90)">20/02/2010</text></g>
<text transform="translate(12.2,108.6) rotate(-90)" font-size="11">NAOI</text>
<g class="lg"><line x1="60.9" x2="76.8" y1="254.9" y2="254.9" stroke="#2446aa" stroke-opacity="1.00" stroke-width="1.45" stroke-dasharray="3.9,2.1"/><text x="77.8" y="258.7">1d</text><line x1="109.4" x2="122.7" y1="254.9" y2="254.9" stroke="#385ab2" stroke-opacity="0.95" stroke-width="1.10"/><text x="124.2" y="258.7">2d</text><line x1="155.7" x2="169.0" y1="254.9" y2="254.9" stroke="#385ab2" stroke-opacity="0.91" stroke-width="1.10"/><text x="170.5" y="258.7">3d</text><line x1="202.1" x2="215.4" y1="254.9" y2="254.9" stroke="#385ab2" stroke-opacity="0.86" stroke-width="1.10"/><text x="216.9" y="258.7">4d</text><line x1="248.4" x2="261.7" y1="254.9" y2="254.9" stroke="#385ab2" stroke-opacity="0.82" stroke-width="1.10"/><text x="263.2" y="258.7">5d</text><line x1="294.8" x2="308.1" y1="254.9" y2="254.9" stroke="#385ab2" stroke-opacity="0.78" stroke-width="1.10"/><text x="309.6" y="258.7">6d</text><line x1="341.2" x2="354.5" y1="254.9" y2="254.9" stroke="#385ab2" stroke-opacity="0.73" stroke-width="1.10"/><text x="356.0" y="258.7">7d</text><line x1="387.5" x2="400.8" y1="254.9" y2="254.9" stroke="#385ab2" stroke-opacity="0.69" stroke-width="1.10"/><text x="402.3" y="258.7">8d</text><line x1="433.9" x2="447.2" y1="254.9" y2="254.9" stroke="#385ab2" stroke-opacity="0.64" stroke-width="1.10"/><text x="448.7" y="258.7">9d</text><line x1="480.2" x2="493.5" y1="254.9" y2="254.9" stroke="#385ab2" stroke-opacity="0.59" stroke-width="1.10"/><text x="495.0" y="258.7">10d</text><line x1="63.0" x2="76.3" y1="267.2" y2="267.2" stroke="#d81c1c" stroke-opacity="1.00" stroke-width="1.10"/><text x="77.8" y="270.9">11d</text><line x1="109.4" x2="122.7" y1="267.2" y2="267.2" stroke="#d81c1c" stroke-opacity="0.94" stroke-width="1.10"/><text x="124.2" y="270.9">12d</text><line x1="155.7" x2="169.0" y1="267.2" y2="267.2" stroke="#d81c1c" stroke-opacity="0.88" stroke-width="1.10"/><text x="170.5" y="270.9">13d</text><line x1="200.0" x2="215.9" y1="267.2" y2="267.2" stroke="#d81c1c" stroke-opacity="0.80" stroke-width="1.45" stroke-dasharray="3.9,2.1"/><text x="216.9" y="270.9">14d</text><line x1="248.4" x2="261.7" y1="267.2" y2="267.2" stroke="#d81c1c" stroke-opacity="0.70" stroke-width="1.10"/><text x="263.2" y="270.9">15d</text><line x1="294.8" x2="308.1" y1="267.2" y2="267.2" stroke="#d81c1c" stroke-opacity="0.60" stroke-width="1.10"/><text x="309.6" y="270.9">16d</text><line x1="341.2" x2="354.5" y1="267.2" y2="267.2" stroke="#d81c1c" stroke-opacity="0.50" stroke-width="1.10"/><text x="356.0" y="270.9">17d</text><line x1="387.5" x2="400.8" y1="267.2" y2="267.2" stroke="#d81c1c" stroke-opacity="0.40" stroke-width="1.10"/><text x="402.3" y="270.9">18d</text><line x1="433.9" x2="447.2" y1="267.2" y2="267.2" stroke="#d81c1c" stroke-opacity="0.30" stroke-width="1.10"/><text x="448.7" y="270.9">19d</text><line x1="480.2" x2="493.5" y1="267.2" y2="267.2" stroke="#d81c1c" stroke-opacity="0.22" stroke-width="1.10"/><text x="495.0" y="270.9">20d</text><line x1="63.0" x2="76.3" y1="279.4" y2="279.4" stroke="#14b04a" stroke-opacity="1.00" stroke-width="1.10"/><text x="77.8" y="283.2">21d</text><line x1="109.4" x2="122.7" y1="279.4" y2="279.4" stroke="#14b04a" stroke-opacity="0.92" stroke-width="1.10"/><text x="124.2" y="283.2">22d</text><line x1="155.7" x2="169.0" y1="279.4" y2="279.4" stroke="#14b04a" stroke-opacity="0.82" stroke-width="1.10"/><text x="170.5" y="283.2">23d</text><line x1="202.1" x2="215.4" y1="279.4" y2="279.4" stroke="#14b04a" stroke-opacity="0.70" stroke-width="1.10"/><text x="216.9" y="283.2">24d</text><line x1="248.4" x2="261.7" y1="279.4" y2="279.4" stroke="#14b04a" stroke-opacity="0.57" stroke-width="1.10"/><text x="263.2" y="283.2">25d</text><line x1="294.8" x2="308.1" y1="279.4" y2="279.4" stroke="#14b04a" stroke-opacity="0.44" stroke-width="1.10"/><text x="309.6" y="283.2">26d</text><line x1="341.2" x2="354.5" y1="279.4" y2="279.4" stroke="#14b04a" stroke-opacity="0.32" stroke-width="1.10"/><text x="356.0" y="283.2">27d</text><line x1="387.5" x2="400.8" y1="279.4" y2="279.4" stroke="#14b04a" stroke-opacity="0.22" stroke-width="1.10"/><text x="402.3" y="283.2">28d</text><line x1="433.9" x2="447.2" y1="279.4" y2="279.4" stroke="#14b04a" stroke-opacity="0.13" stroke-width="1.10"/><text x="448.7" y="283.2">29d</text><line x1="480.2" x2="493.5" y1="279.4" y2="279.4" stroke="#14b04a" stroke-opacity="0.06" stroke-width="1.10"/><text x="495.0" y="283.2">30d</text></g>
</svg>
</body></html>
